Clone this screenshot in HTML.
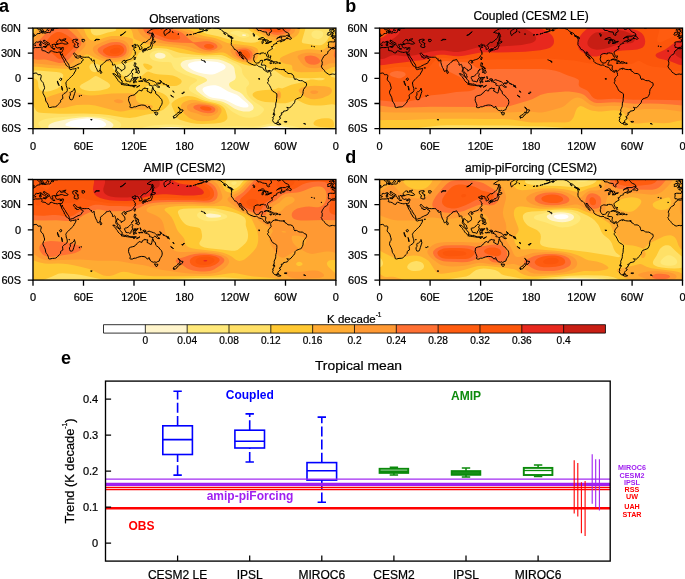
<!DOCTYPE html>
<html lang="en"><head><meta charset="utf-8"><title>Figure</title>
<style>html,body{margin:0;padding:0;background:#fff}svg{display:block}text{font-family:'Liberation Sans', Arial, Helvetica, sans-serif;fill:#000;stroke:#000;stroke-width:0.22px}</style></head><body>
<svg width="685" height="579" viewBox="0 0 685 579">
<defs>
<clipPath id="mc"><rect x="0" y="0" width="302.9" height="100.6"/></clipPath>
<path id="coast" d="M330.1 24.1L329 23.9L328.2 24.1L327.4 24.4L325.7 24.1L324 23.8L323.1 23.5L322.3 23L321 22.7L319.8 23.4L319.8 24.3L319.4 24.8L318.1 24.8L316.4 24.1L315.8 23.2L314.1 22.7L312.4 22.5L311.4 21.9L312 21.2L311.9 20.5L311.7 19.9L312.2 19.2L311.4 19L309.7 19.4L307.2 19.5L305.5 19.4L302.9 20.1L302.1 20.4L300.5 20.7L298 20.3L297.9 20.5L297.2 21.8L296.6 22.1L295.4 22.9L294.7 23.9L294.8 24.7L294.5 25.6L293.3 26.4L292 27.1L290.7 28.3L290.5 28.9L289.7 30.2L289.1 31.4L288.6 32.7L289.3 34L289.2 35.2L289.1 36.9L288.2 38L288.8 39L288.9 40L290.3 41.1L291.4 42.3L291.8 43.2L292.4 44L293.9 45L295.4 46.1L296.6 46.6L297.9 46.2L299.6 45.9L300.4 46L301.3 46.3L302.8 45.7L304 45.2L305.8 44.9L306.7 45L307.2 45.7L308 46.7L308.8 46.6L310.1 46.5L310.9 46.9L311.1 47.4L311.1 48.6L310.8 49.9L310.5 51.1L310.9 52.4L312.2 53.5L313 54.5L313.3 55.3L314.1 57.8L314.6 59.5L314.3 60.8L313.5 62L312.9 64.1L313 65.4L314.3 67.9L315.2 69.6L315.7 72.9L316.7 74.2L317.3 75L318.1 76.7L318.3 77.7L318.5 79.1L319.8 79.5L322.3 78.9L324.6 78.8L325.7 78.6L326.9 77.7L328.2 76.5L329 75.4L329.5 75L330.6 73.8L330.6 72.1L331.1 71.5L332.8 70.4L332.7 68.7L332.4 67.1L333.2 66.2L334.1 65.4L335.3 64.7L336.6 63.7L337.2 62.5L337.1 60.4L336.6 58.9L336.2 57.4L336 56L335.8 54.9L336.4 53.7L336.6 53.2L337.5 52.1L338.3 51.6L339.6 50.3L341.1 48.6L341.7 48.2L343.3 46.5L344.2 44.9L345.4 42.8L345.9 41.5L346 40.3L344.2 40.8L342.5 40.9L340.8 41.5L340 41.5L339.3 40.6L339.4 39.8L338.7 39.4L337.5 38.1L336.2 37.3L335.3 35.2L334.3 34.4L334.1 32.7L333 31L332.4 30.2L331.6 28.5L331.1 27.2L330.4 26L330.3 25.1M27.2 24.1L26.1 23.9L25.2 24.1L24.4 24.4L22.7 24.1L21 23.8L20.2 23.5L19.4 23L18.1 22.7L16.8 23.4L16.8 24.3L16.4 24.8L15.1 24.8L13.5 24.1L12.9 23.2L11.1 22.7L9.4 22.5L8.5 21.9L9.1 21.2L8.9 20.5L8.8 19.9L9.3 19.2L8.4 19L6.7 19.4L4.2 19.5L2.5 19.4L0 20.1L-0.8 20.4L-2.4 20.7L-5 20.3L-5 20.5L-5.7 21.8L-6.4 22.1L-7.6 22.9L-8.2 23.9L-8.2 24.7L-8.4 25.6L-9.7 26.4L-10.9 27.1L-12.2 28.3L-12.5 28.9L-13.3 30.2L-13.9 31.4L-14.3 32.7L-13.6 34L-13.7 35.2L-13.9 36.9L-14.7 38L-14.1 39L-14.1 40L-12.6 41.1L-11.5 42.3L-11.2 43.2L-10.5 44L-9.1 45L-7.6 46.1L-6.3 46.6L-5 46.2L-3.4 45.9L-2.5 46L-1.7 46.3L-0.2 45.7L1 45.2L2.9 44.9L3.8 45L4.2 45.7L5 46.7L5.9 46.6L7.2 46.5L8 46.9L8.2 47.4L8.2 48.6L7.8 49.9L7.6 51.1L8 52.4L9.3 53.5L10.1 54.5L10.4 55.3L11.1 57.8L11.6 59.5L11.4 60.8L10.5 62L9.9 64.1L10.1 65.4L11.4 67.9L12.2 69.6L12.8 72.9L13.7 74.2L14.3 75L15.1 76.7L15.4 77.7L15.6 79.1L16.8 79.5L19.4 78.9L21.6 78.8L22.7 78.6L24 77.7L25.2 76.5L26.1 75.4L26.5 75L27.6 73.8L27.6 72.1L28.2 71.5L29.9 70.4L29.7 68.7L29.5 67.1L30.3 66.2L31.1 65.4L32.4 64.7L33.7 63.7L34.3 62.5L34.2 60.4L33.7 58.9L33.2 57.4L33.1 56L32.8 54.9L33.4 53.7L33.7 53.2L34.5 52.1L35.3 51.6L36.6 50.3L38.1 48.6L38.7 48.2L40.4 46.5L41.2 44.9L42.5 42.8L42.9 41.5L43.1 40.3L41.2 40.8L39.6 40.9L37.9 41.5L37 41.5L36.4 40.6L36.4 39.8L35.8 39.4L34.5 38.1L33.2 37.3L32.4 35.2L31.4 34.4L31.1 32.7L30 31L29.5 30.2L28.6 28.5L28.2 27.2L27.4 26L27.3 25.1M41.5 60.4L42.3 63.3L41.6 65.4L40.8 67.9L40 70.4L39.6 71.3L38.3 71.7L37 71.3L36.6 70L36.4 68.3L37.3 67.1L37.4 65.4L37 64.6L37.9 63.7L39.1 63.5L40.2 62.5L41.1 61.2ZM4.2 0L4.5 0.8L5.5 1.6L6.7 1.6L8 0.9L8.9 0.3L9.4 1L9.9 1.8L10.5 2.9L10.8 3.8L12 3.8L13.3 3.2L13.9 2.3L14.1 1.3L15.4 0.6L15.6 0M18.8 0L19.4 0.2L20.2 0M328.2 0L327.4 0.3L325.7 0.4L323.8 0.4L322.7 0.7L322.8 1.3L323.6 1.4L323.3 2.3L322.5 2.5L322 1.9L321 2.2L320.6 3.1L320.7 3.9L319.8 4.4L318.9 4.7L318.5 4.4L316.8 4.5L315 5.1L313.9 4.7L312.2 5L311.4 4.6L311.2 3.9L312 3.1L311.8 2L310.5 2.4L309.9 2.9L309.9 3.8L310.3 4.6L310.1 5.3L308.8 5.4L307.2 5.6L306.6 6.5L305.9 7.2L304.4 7.6L304.1 8.3L303 8.8L301.9 8.9L301.4 8.6L301.7 9.5L300.4 9.4L299 9.7L299.3 10.2L300.8 10.6L301.9 11.7L301.9 12.9L301.5 13.9L299.6 13.8L297.1 13.7L295.2 14.2L295.5 15.5L295.5 16.8L295 17.8L295.5 18.2L295.4 19.3L296.6 19.2L297.6 19.5L298.3 20L299.2 19.5L301.1 19.4L301.5 18.9L302.5 18.6L303.1 17.8L302.7 17.2L303.5 16.1L304.8 15.6L305.6 14.9L305.6 14.2L306.5 13.8L308 14.2L309.3 13.6L310.4 13.1L311.5 13.5L311.9 14.3L313 15.2L314.5 15.8L315.1 16.2L316.1 16.8L316.5 17.6L316.2 18.4L316.6 18.5L317.3 17.6L316.9 17L317.3 16.3L318.4 16.9L318.4 16.5L317 15.8L316.4 15.2L315.3 14.9L314.4 13.8L313.4 13.2L313.3 12.3L314.4 12L314.4 12.7L315.2 12.4L315.7 13.2L316.8 13.9L318.5 14.8L319.4 15.3L319.3 16.4L320 17.3L320.8 18.2L321 19L321.5 19.6L322.1 19.7L322.4 18.9L323.1 18.7L322.6 17.9L322.1 17.2L322.1 16.3L322.9 16.7L323.4 16.1L324.8 16.1L325.1 16.7L325.5 16.3L326.5 15.9L327.4 15.8L327.6 16.2L326.1 16.4L325 16.9L325.4 17.4L325.6 18.1L325.9 18.9L326.1 19.3L326.8 19.5L327.5 19.9L328.6 19.9L328.8 19.4L329.9 19.7L331.1 20L332.1 19.4L332.9 19.6L333.3 19.5L333.2 20.5L333.2 21.4L332.8 21.9L332.4 22.6L332.2 23.5L331.8 24.1L330.7 24.2L330.1 24.1M25.2 0L24.4 0.3L22.7 0.4L20.9 0.4L19.8 0.7L19.9 1.3L20.6 1.4L20.4 2.3L19.5 2.5L19 1.9L18.1 2.2L17.7 3.1L17.8 3.9L16.8 4.4L16 4.7L15.6 4.4L13.9 4.5L12 5.1L10.9 4.7L9.3 5L8.4 4.6L8.2 3.9L9 3.1L8.8 2L7.6 2.4L6.9 2.9L6.9 3.8L7.3 4.6L7.2 5.3L5.9 5.4L4.2 5.6L3.6 6.5L2.9 7.2L1.4 7.6L1.2 8.3L0.1 8.8L-1 8.9L-1.5 8.6L-1.3 9.5L-2.5 9.4L-4 9.7L-3.6 10.2L-2.1 10.6L-1 11.7L-1 12.9L-1.4 13.9L-3.4 13.8L-5.9 13.7L-7.7 14.2L-7.4 15.5L-7.5 16.8L-7.9 17.8L-7.4 18.2L-7.6 19.3L-6.3 19.2L-5.3 19.5L-4.6 20L-3.7 19.5L-1.9 19.4L-1.4 18.9L-0.4 18.6L0.2 17.8L-0.3 17.2L0.6 16.1L1.9 15.6L2.7 14.9L2.6 14.2L3.5 13.8L5 14.2L6.3 13.6L7.5 13.1L8.6 13.5L8.9 14.3L10.1 15.2L11.5 15.8L12.1 16.2L13.1 16.8L13.5 17.6L13.2 18.4L13.6 18.5L14.4 17.6L14 17L14.3 16.3L15.5 16.9L15.5 16.5L14.1 15.8L13.5 15.2L12.4 14.9L11.4 13.8L10.4 13.2L10.4 12.3L11.4 12L11.4 12.7L12.2 12.4L12.8 13.2L13.9 13.9L15.6 14.8L16.4 15.3L16.3 16.4L17.1 17.3L17.8 18.2L18 19L18.5 19.6L19.2 19.7L19.4 18.9L20.2 18.7L19.6 17.9L19.2 17.2L19.1 16.3L19.9 16.7L20.4 16.1L21.9 16.1L22.1 16.7L22.6 16.3L23.6 15.9L24.4 15.8L24.7 16.2L23.1 16.4L22 16.9L22.5 17.4L22.6 18.1L23 18.9L23.1 19.3L23.8 19.5L24.6 19.9L25.7 19.9L25.8 19.4L26.9 19.7L28.2 20L29.1 19.4L30 19.6L30.4 19.5L30.2 20.5L30.2 21.4L29.9 21.9L29.5 22.6L29.3 23.5L28.9 24.1L27.8 24.2L27.2 24.1M24.4 15.8L23.6 15.1L23.3 14.5L23.7 13.9L24.2 13.2L25 12.4L25.7 11.7L26.5 11.2L27.3 11.7L28.3 11.8L27.4 12.3L28.2 12.9L29 12.7L29.9 12.5L30.7 12.3L29.6 11.5L30.7 11.1L32.1 10.8L33.1 10.7L32.1 11.6L31.6 12.2L31.1 12.4L31.8 12.8L32.8 13.4L33.4 13.9L34.5 14.4L35 15.1L34.9 15.5L33.7 15.9L32.4 16L31.1 15.8L30.3 15.5L29.5 15.1L28.2 15.1L26.9 15.3L26.1 15.8L24.8 15.8ZM40.4 11.7L41.7 11.3L42.9 11.1L44.6 11.3L44.6 12.3L43.2 12.4L42.9 13L42.3 13.2L42.9 14.1L44.2 14.4L44.4 15.3L45.4 15.3L45.4 15.9L44.4 16.1L45 16.8L44.6 17.4L45.3 17.8L45.3 19L44.6 19.4L43.3 19.5L42.1 19L41.2 18.8L41.2 18.1L41.2 17.4L41.6 16.6L42.3 16.5L41.7 15.9L40.8 15.1L40 14.3L40 13.4L39.6 12.9L39.3 12.4L40 12ZM49.2 11.3L51.3 11.3L51.8 12.6L50.5 13.7L49.2 13.4L49.1 12.2ZM61.9 12.2L63.1 11.2L64.8 11.2L66.5 11.4L64.8 11.6L63.1 11.6L62.3 12.6ZM87.5 7.1L89.2 6.3L91.3 5L92.6 3.6L91.7 4L90.5 5.6L88.8 6.9ZM27.3 25.1L28.2 26.7L28.8 27.1L29 26.4L29.5 25.6L29.3 26.7L29.9 27.2L30.3 28.1L31.3 29.8L32.4 31L32.8 32.3L33.7 33.5L34.5 34.8L35.5 36L36 37.3L36.4 39L36.6 39.7L37.9 39.6L39.6 39L41 38.6L42.1 37.7L43.8 36.9L45 36.2L46.3 35.8L47.5 35.2L48.6 34.4L48.6 33.3L49.5 32.9L50.3 31.6L49.5 30.6L48 30.2L47.4 29.3L47.5 28.3L47.1 28.7L46.5 29.1L45.4 30L44.2 30L43.4 29.9L43.3 28.9L43.2 28.4L42.7 28.9L42.5 29.3L42.2 28.8L42.1 27.9L41.4 27.2L40.8 26.4L40.4 25.6L40.8 25.1L41.7 25L42.5 25.7L43.3 26.9L44.6 27.8L45.9 28L47.1 27.6L48 28L48.4 28.8L49.7 29L51.8 29.2L53.4 29.1L54.7 29.1L56 29L56.4 29.5L56.8 30.3L57.6 30.8L58.9 31.1L58.1 31.6L58.5 32.3L59.3 32.9L60.6 32.5L60.9 31.7L61.2 32.3L61.3 33.1L61.3 34.4L61.7 36L62.1 37.3L62.9 39.4L63.8 40.8L64.2 42.1L64.8 43.3L65.3 43.5L65.8 42.8L66.5 42.5L67.2 41.7L67.2 40.7L67.6 39.3L67.5 37.7L68.2 36.9L69.3 36.3L70.3 35.4L71.5 34.1L72.8 33.4L73.2 32.3L74.3 32.1L75.3 32L76.2 31.6L77 31.4L77.3 31.6L77.7 32.7L78.3 33.5L79.1 34.5L79.5 35.6L79.4 36.9L80.2 37.1L81 36.5L81.6 36.2L82.2 36.9L82.3 37.7L82.6 39L83.1 40.2L83 41.5L82.7 42.8L82.7 43.7L83.3 44.3L84.2 44.9L84.5 45.7L84.7 46.9L85.2 47.8L86 48.5L87.1 49.2L87.7 49.1L87.5 48.2L87 47.4L87 46.3L86.3 45.3L85.8 45L85 44.5L84.6 44.2L84.2 43.2L83.5 42.5L83.6 41.5L84 40.4L84.2 39.1L84.6 39L85 39.7L86 40.1L86.7 40.9L87.1 41.4L87.9 41.6L88.4 41.9L88.2 43.1L88.8 42.8L89.8 41.6L90.3 41.5L91.6 40.8L92 39.8L91.9 38.7L91.6 37.3L91.1 36.7L90 35.9L89.5 35.2L88.9 34.4L89.2 33.5L89.9 32.9L90.9 32.3L92.1 32.3L92.3 33.1L92.6 33.3L93 32.5L94.1 32.2L95.5 31.7L96.2 31.5L97.2 31.2L98.5 30.6L99.5 29.8L100.4 28.9L100.8 27.8L101.4 27.2L102.2 26.4L102.5 25.3L102.2 24.9L101.7 24.8L102.6 24.4L102.5 23.7L101.7 23.1L101.2 21.8L100.4 21L101.2 20.1L101.8 19.6L103.1 19.3L103.1 18.9L102.1 18.8L101 18.9L100.1 19L100 18.3L99 18L99.1 17.4L100.1 17.4L101 16.8L101.8 16.1L102.7 16.3L102.1 17.4L102 17.8L103.5 17L104.6 16.9L105.2 17.2L105.4 18L105 18.4L105.9 18.7L106.5 19.1L106.5 20.1L106.4 21.2L107.1 21.4L108.1 21L108.8 20.7L109 19.7L108.8 19.1L108.1 18.2L107.3 17.2L107.7 16.8L109 16.1L109.2 15.3L110 14.8L111.1 14.1L112.3 14.4L114 13.2L115.3 12.2L116.6 10.9L118 9.6L118.2 8.4L118.9 6.7L118.9 5.7L117.8 5.4L117.4 4.9L115.7 5L115.3 4.4L114 4.4L115.3 3.4L117 2.3L118.2 1.5L119.9 0.7L122 0.5L124.5 0.5L126.9 0.4L128.3 0.8L130 0.4L130.9 0M136.2 0L134.5 0.8L133 1.7L132 2.1L131.3 2.9L130.9 4.6L131.4 6.3L131.9 7.5L133.2 6.5L133.6 5.9L134.6 4.9L136.3 4.4L136.1 3.8L137.4 3.2L137.2 2.1L136.6 1.8L137.6 0.8L138.4 0.1L139.7 0M119.5 4.8L120.3 5.9L120.6 7.1L121.2 8.4L120.3 9.2L120.2 10.5L120.8 11.2L119.5 11.7L119.5 10.5L119.7 9.2L119.5 7.5L119.3 6.3ZM119.4 12.2L120.8 13.2L122.3 13.2L122.4 14L120.6 15.1L118.8 14.7L118.1 15.5L117.8 14.4L118.9 14L119.2 13ZM118.7 15.6L119.1 16.3L119.5 17.2L119.1 18.2L118.7 19.3L118.4 20.1L118.5 20.4L117.8 20.8L117.6 21L117 20.9L116.6 21.2L115.5 21.3L115.1 21.5L114.4 22.2L113.8 21.5L113.6 21.3L112.3 21.5L111.1 21.8L110.2 21.8L110.2 21.5L111.5 20.6L112.8 20.5L114 20.5L114.4 19.9L115.1 19L115.5 18.9L115.5 19.4L116.6 18.9L117.4 18L117.8 16.9L117.8 16.3L118.2 15.8ZM110.2 21.9L110.9 22.5L110.8 23.5L110.2 24.1L109.8 24.1L109.6 23.5L109.2 22.9L109.2 22.3L109.8 22ZM111.5 22L112.9 21.5L113.4 22L112.9 22.4L112.1 22.6L111.6 22.8L111.3 22.3ZM102.2 29.2L102.7 29.5L102.2 30.6L101.7 31.9L101.2 31.2L101.2 30.3L101.8 29.3ZM93 33.5L93.4 34L92.9 34.8L92.1 35L91.5 34.5L91.6 33.9L92.4 33.5ZM67.3 42.1L68.3 43.2L68.8 44.3L68.5 45L67.6 45.3L67.2 44.4L67.2 43.3ZM101.7 34.8L102.8 34.9L102.9 36L102.4 37.1L102.3 38.1L103.1 38.6L104.2 38.7L104.3 39.7L103.5 39.2L102.5 38.7L101.7 38.7L101.4 38L101 37.3L101.2 36.6L101.4 35.6ZM105.6 42.1L106.3 43.2L106.5 44.4L106 45L105.6 45.4L105.4 44.9L104.3 44.9L104.2 44L102.8 44.4L102.7 43.8L103.5 43.2L104.3 43.2L105.2 42.8ZM98.6 43.2L99.7 42.3L100.6 41.2L100.4 40.8L99.6 41.9L98.6 43.2ZM105.2 39.8L105.8 40.9L105.2 41.1L104.8 40.2ZM102.7 40.4L103.6 40.7L103.8 41.9L103.3 42.6L102.9 41.9L102.7 41.5ZM80.2 45.6L82 45.9L82.9 46.9L84.2 48L85 48.6L86.7 49.9L87.4 51.1L87.9 52L89.2 52.8L89 55.2L87.9 55.1L86.3 53.8L85 52.4L84.4 51.1L83.3 49.9L82.9 48.8L81.8 47.8L80.8 46.9ZM88.5 56L89.6 55.3L91.3 55.8L93 56L93.4 55.7L94.8 56.2L96.3 56.8L96.4 57.5L94.7 57.3L92.6 57L90.9 56.8L89.5 56.5ZM91.7 49L92.2 48.6L93.7 48.4L95.1 47.6L96.4 46.4L97.6 45.1L98.5 44.4L99 45L100.1 45.9L99.5 46.5L99.1 47.4L99.3 48.6L100.1 49.5L99.1 49.9L98.9 51L98 51.6L97.9 53.1L97.6 53.7L96.4 53.7L95.5 53.1L94.3 53.2L92.7 52.7L92.6 51.6L91.9 50.7L91.7 49.9ZM101 49.5L101.8 49.3L103.5 49.5L105.2 49L104.8 49.9L103.5 50L101.8 49.9L101.1 50.3L101.2 51.1L102.2 51.1L103.7 51L102.7 51.8L102.2 52L102.9 53.1L103.5 54.1L102.9 54.3L102.2 53.7L101.8 52.6L101.2 52.7L101.3 54.1L101.2 55L100.6 54.9L100.6 53.2L100 52.6L100.8 50.5ZM96.8 57.2L98 57.3L98.9 57.2L100.1 57.3L101 57.3L103.3 57.3L103.3 57.7L101 57.8L99.3 57.8L97.6 57.8L96.8 57.6ZM103.9 58.9L105.2 58.1L106.9 57.3L105.6 58.3L104.3 58.9ZM100.1 58.2L101.7 58.7L101 58.9ZM107.4 48.6L107.7 49.5L108.2 50L107.7 50.9L107.5 50ZM107.7 52.8L109 52.6L110.1 53.2L109 53.2L107.7 53.2ZM106 53L107 53.1L106.7 53.5ZM110.2 51L111.5 50.6L112.8 51L112.9 52.4L113.6 53.1L114.9 52.1L116.1 51.6L117.8 52.3L118.7 52.5L120.3 53.2L121.6 53.5L122.7 54.5L123.7 55.3L124.4 55.9L123.7 56.2L124.5 57.2L125.8 58.3L126.9 58.9L126.2 59.2L124.5 58.9L123.7 58.3L122.9 57.2L121.6 56.8L120.8 57.4L120.3 58L119.1 58L117.8 57.3L116.6 57.3L116.1 56.4L116.8 56L116.1 54.9L114.4 54.2L112.8 53.6L111.9 53.7L111.8 53.2L111.3 52.6L112.6 52.1L111.1 52L110.2 51.5ZM125 54.9L126.6 54.9L127.9 53.9L128.2 54.5L127.1 55.5L125.8 55.6ZM126.9 52.5L128.3 53.2L128.8 54.2L128.2 53.3ZM130.2 54.9L131.1 55.8L130.7 55.9ZM131.7 55.9L132.5 56.5L132.1 56.4ZM133.4 56.7L134.5 57.3L134.1 57.2ZM134.4 58.1L135.3 58.6L134.6 58.5ZM135.3 57.3L135.9 58.3L135.7 58.3ZM135.9 58.9L136.6 59.4L136.2 59.3ZM138 67.2L139.3 68.2L140.5 69L139.7 68.7L138.4 67.9ZM140.2 62.9L140.7 63.4L140.4 63.5ZM140.8 63.8L141.2 64.2L140.9 64.1ZM149.2 65L150.3 65.1L150 65.6L149.3 65.5ZM150.5 64.1L151.5 63.9L151.1 64.4ZM171.8 33.4L172.6 33.9L172 34.4L171.7 34ZM171.1 32.8L171.6 32.9L171.3 33ZM170 32.2L170.2 32.4L169.9 32.4ZM168.6 31.8L168.8 31.9L168.6 31.9ZM119.9 59.3L120.8 62L122.3 62.9L122.9 65.8L123.7 66.5L125.4 67.5L126.9 69.6L128.6 71.3L129.2 73.4L129.2 74.6L128.8 76.3L127.9 77.8L127.2 78.8L126.5 80.5L126.2 81.6L124.5 82.1L123.1 83L121.9 82.3L120.8 82.8L118.7 82.2L117.6 81.3L117.4 80.3L116.3 80.1L116.6 79.4L116 78L115.7 78.8L114.4 79.5L114 79.4L112.9 77.8L111.1 77.1L108.6 76.9L106 77.4L104.3 78L102.7 78.7L101 78.7L99.3 79.6L97.6 79.5L96.8 79.1L97.4 77.1L96.8 75.4L96.1 73.8L95.5 72.1L95.7 70.4L95.9 68.7L97.6 67.7L99.3 67.3L101 66.9L102.2 66.2L102.9 65L103.9 64.7L104.3 63.9L105.6 62.5L106.9 62L107.9 62.7L109 62.8L109.4 61.2L110.1 60.7L111.5 60.4L111.5 59.8L113.2 60.4L114.9 60.4L114.4 61.6L114 62.9L115.3 63.5L117 64.6L118.2 65L118.8 63.3L119.2 61.2L119.5 59.5ZM121.8 84.4L123.3 84.8L124.8 84.6L124.7 85.7L124.1 86.8L122.9 86.9L122.3 85.9ZM145.3 79.1L146.7 80.1L147.3 81.2L148.1 81.8L149.8 81.8L150.1 82.6L149.1 83.3L149 83.8L148.1 84.9L147.4 85.1L147.1 84.9L147.4 84L146.4 83.4L147 82.6L146.9 81.3L145.6 79.6ZM145.3 84.3L146.6 84.8L146.4 85.5L145.4 86.8L144.2 87.4L143.7 88.7L142.6 89.4L141.6 89.3L140.1 88.9L140.5 88L141.8 87.2L143.5 86.3L144.3 85.3L144.9 84.5ZM141 89.5L141.5 89.7L141.2 90ZM166.6 0L166.6 1.2L169.1 1L170.4 1.1L170.4 2.1L169.6 2.7L168.3 3.4L166.2 4L164.3 4.5L165.8 4.4L167.5 4L169.1 3.5L170.8 2.7L172.5 1.9L173.4 1.4L173.8 0.6L174.6 0M175.2 0L175.2 0.7L176.7 0.5L178 0M180.1 -0.3L181.8 0L183.5 0L185.1 0.3L186.8 1L188.1 1.5L188.9 2.5L190.2 3.4L191.4 4.2L192.7 4.6L193.6 5L194.4 5.9L195.2 6.7L195.7 7.5L197.8 8.4L199.3 9L199.9 9.6L199.9 10.6L199 9.9L198 9.7L198.6 11.5L198.6 13L198.3 14.4L198.4 15.9L198.3 16.5L198.9 17.6L199.9 18.6L200.3 19.4L200.5 19.9L201.4 20.8L201.5 21.4L202.8 21.7L203.4 22L204.3 22.9L204.9 23.9L205.5 24.9L205.8 25.6L206.8 26.8L206.2 27L207.4 27.9L208.5 28.9L208.7 29.8L210.1 30.8L210.5 31.1L210.8 30.7L210.1 29.9L209.5 28.9L208.9 27.8L208 26.8L207.4 26L206.6 24.9L206.3 23.9L207.9 24.1L208.4 25.6L209.5 26.8L210.8 28.1L211.6 29.1L212.9 30.2L213.7 31.2L214.2 32.3L214.2 33.3L215.2 34.4L216.7 35.2L218 35.9L219 36.2L220.9 37L222.2 37.1L223.4 36.7L224.7 37.5L225.5 38.3L226.8 38.7L228.5 39.2L229.3 39.4L229.7 40L230.6 40.9L230.8 41.9L231.4 42.1L232.3 42.5L232.7 43.2L233.3 43.4L234.4 44L235.2 44.2L235.6 43.3L236 42.8L237.1 43.4L237.3 44.2L237.7 44.9L237.9 46.5L238.2 47.1L236.9 48.4L236.5 49.2L235.6 49.9L235.2 51.1L234.9 52.1L235.6 52.4L235.5 53.2L234.6 54.1L234.8 55.3L235.8 56.3L236.6 57.4L237.5 59.1L238.1 60.4L238.8 61.9L239.8 63.2L241.5 64.1L242.9 65L243.8 65.7L243.9 67.9L243.6 70.4L243.5 72.9L242.8 75L242.7 77.1L242.6 78.4L241.7 80.5L241.1 81.7L241.3 83.4L240.8 85.1L241.5 85.5L241.7 86.8L240.8 88L240.3 89.3L239.4 89.5L240.3 90.5L239.6 92.2L240.3 93.9L241.9 95.2L243.2 95.4L243.6 94.6L244.9 94.1L245.4 94.1L244.9 93.1L245.3 92.2L246.1 91.4L247.4 90.5L247.6 89.7L246.1 88.9L247 88L248 87.6L248.3 86.3L249.1 86.1L248.3 85.5L248.3 84.7L249.9 84.7L250.6 83L252.5 82.8L254.5 82.2L255.2 80.9L254.7 80.1L253.8 79.2L255 79.5L255.7 79.6L256.8 79.6L257.9 78.8L259 77.3L260.5 75.9L261.7 74.2L262.1 72.1L263.4 70.8L265.1 70.2L266.6 69.6L267.6 69.5L268.4 68.6L269.3 67.1L270 65.4L270.1 63.3L270.6 61.2L271.6 59.9L272.8 58.4L273.6 57L273.5 55.7L273.2 54.7L271.8 54.3L270.6 53.4L269.3 52.6L267.6 52.6L265.9 52.4L264.7 51.6L263.4 50.9L262.1 50.9L262.1 51.6L260.9 49.9L260.9 48.8L260 46.9L259.2 46.1L257.5 45.4L256.2 45.4L255 45.3L254.1 44.6L253.3 43.6L252 43.2L251.6 42.3L250.8 41.3L249.1 41.5L247.4 41.4L245.7 41.2L245.5 40.9L244 40.7L244 40.1L242.9 41.1L242.7 41.3L242.9 40.1L242.6 39.9L241.5 40.7L240 41.1L239.4 41.6L239 42.5L238.3 43.2L237.9 43L237.3 42.4L236 42.3L234.8 42.9L233.9 42.6L233.1 41.9L232.6 41.2L232.5 39.8L232.8 38.6L232.9 37.7L231.8 37.1L230.6 37L228.9 37.1L228.2 36.9L228.6 35.6L228.9 34.8L229.3 34L229.7 33.1L229.9 32.4L228.9 32.2L227.2 32.5L226.8 33.5L226.7 33.7L226 34.7L224.7 34.9L223.4 35L222.3 34.5L222 34.1L221.2 32.9L220.7 31.6L220.7 30.2L221.2 28.7L221.1 27.2L221.7 26.4L223 25.8L224 25.4L225.5 25.5L226.8 25.8L227.8 25.9L227.6 25L228.9 24.9L230.6 24.8L231.3 25.4L232.3 25.1L233.1 25.8L233.4 26.8L233.8 27.9L234.4 28.7L234.8 29.2L235.4 29.1L235.5 28.7L235.6 27.7L235.1 26.4L234.5 25.1L234.6 23.9L235.2 23.2L236.2 22.5L237.3 21.9L238.2 21.2L238.7 21L239.4 20.7L239.2 19.7L238.8 19.3L238.7 18L239 18.9L239.6 18.4L239.8 17.8L240.5 17.2L240.7 16.3L241.9 15.9L243 15.5L244 15.3L243.5 14.8L243.5 14.3L244.2 13.6L245.3 13.2L246.6 12.7L247.4 12.4L248.4 12.1L247.4 13.2L247.2 13.7L248 13.8L249.5 12.9L251.6 12.3L252.5 11.3L252.2 10.9L251.2 11.7L249.9 11.9L248.7 11.5L248.3 10.5L248.7 10.1L248.8 9.4L247.4 9.1L245.3 9.6L243.6 10.7L244.5 9.9L246.1 8.9L247.2 8.2L249.5 8.1L252.5 8.1L253.7 7.3L255.2 7.1L256 6.3L255.8 5.4L254.6 4.6L252.9 3.9L251.6 3.1L250.9 2.1L250.4 1.3L249.1 0.3L248.7 0M248.3 0L247.4 0.8L245.7 1.4L244.5 1L244 0M237.7 0L237.9 1.3L238.6 2.5L238.2 3.8L236.5 4.6L236 5.9L236.6 6.9L235.9 7.4L235.2 7.1L233.9 6.3L233.8 5L233.5 4L231.4 3.8L229.3 3.4L228.1 2.6L226.4 2.3L225.1 2.5L224.7 1.3L223.7 1L223.3 0M256.2 7L255.8 8L254.6 8.8L253.3 10.1L253.1 10.4L255.8 10.5L256.7 11.1L257.9 11.1L258.5 10.5L257.9 9.6L257.7 9L256.2 8.4ZM195 7.7L197.3 8.2L199 9.6L198.2 9.6L196.9 9ZM191 4.9L192 5.4L192.5 6.5L191.4 5.9ZM172.9 2.1L174.8 1.8L174.4 2.5L173.1 2.7ZM163.3 5L162 5.5L162.8 5.4ZM161.2 5.6L160.3 6L160.9 5.9ZM158.2 6.5L156.5 6.6L157.4 6.4ZM154.8 6.8L153.6 7L154.4 6.7ZM145.2 6L146 6L145.6 5.9ZM139.5 3.9L140.2 4.4L139.9 4ZM264.8 0L265.9 0.2L266.8 0M225.5 11.1L227.6 10.1L228.9 9.4L230.6 9.6L231.6 10.5L231.8 11.3L229.7 11.3L228.5 10.9L226.8 11.1ZM229.1 15.1L229.1 13.4L230.2 11.9L231.4 11.9L230.3 13.4L230.3 14.7L229.7 15.3ZM231.8 11.8L233.9 11.7L235.6 12.6L234.4 13.2L234.1 14.1L233.5 14.3L232.7 13.6L232.9 12.4ZM232.9 15.3L234.8 15.3L236.5 14.5L235.6 14.5L233.5 14.9ZM235.9 14L238.2 14L238.8 13.2L237.3 13.4ZM221.3 8L221.7 6.7L220.5 5.3L219.8 5.7L220.6 6.7L220.9 7.8ZM231.4 31.9L233.1 31L234.8 30.9L236.5 31.4L238.2 32.3L239.4 32.9L240.5 33.4L239.8 33.6L237.7 33.6L237.3 32.9L236 32.2L234.4 31.7L233.5 31.4L232.4 31.7ZM240.3 34.9L241.4 33.6L242.6 33.7L244 33.8L245.4 34.7L244.5 34.9L243.2 35L242.6 35.5L241.9 35ZM237.1 34.9L238.2 34.8L238.7 35.2L237.7 35.4ZM246.4 34.8L247.7 34.9L247.5 35.2L246.4 35.2ZM250.9 41.3L251.6 41.3L251.5 41.8L250.9 41.8ZM237.3 27.9L238.2 28.1L237.7 28.3ZM237.3 29.3L237.6 30.2L237.1 29.8ZM251.6 93.5L252.9 93.3L254.1 93.6L253.3 94.1L252 94ZM245.2 94.5L243.6 95.2L243.2 95.7L244.9 96.6L247 96.6L248.1 96.2L246.1 95.4L245.5 94.7ZM240.7 85.4L241.1 86.7L240.4 86.5ZM226 50.6L226.4 51.1L226.1 51.1ZM226.8 50.7L227 50.9L226.8 51ZM271 95.6L272.7 96.1L272.2 95.7ZM58.1 91.4L59.2 91.5L58.7 91.9L58.1 91.8ZM298.2 8.3L300 8.1L301.4 7.8L303.2 7.7L304.1 7.4L303.6 7.1L304.4 6.2L303.2 5.9L302.9 5.4L302.8 4.9L301.9 4.2L301.3 3.5L300.3 3.4L301.3 2.6L301.3 2L300 1.9L299.6 2L300.4 1.2L298.7 1.2L298.1 2.1L298.2 2.9L297.9 3.5L298.7 3.8L298.9 4.4L300 4.3L300.4 5L300.4 5.5L299.2 5.6L299.4 6L299.5 6.5L298.6 6.8L299.4 7L300.4 7.2L299.3 7.5ZM-4.8 8.3L-2.9 8.1L-1.5 7.8L0.3 7.7L1.2 7.4L0.7 7.1L1.4 6.2L0.3 5.9L0 5.4L-0.2 4.9L-1.1 4.2L-1.7 3.5L-2.7 3.4L-1.7 2.6L-1.7 2L-2.9 1.9L-3.4 2L-2.5 1.2L-4.2 1.2L-4.9 2.1L-4.7 2.9L-5 3.5L-4.2 3.8L-4 4.4L-2.9 4.3L-2.5 5L-2.5 5.5L-3.8 5.6L-3.5 6L-3.5 6.5L-4.4 6.8L-3.5 7L-2.5 7.2L-3.6 7.5ZM297.7 5.6L297.6 6.5L296.2 6.9L294.7 7.1L294.3 6.5L295 5.7L294.5 4.9L296 4.5L296 4L297.6 4L298.3 4.6ZM296.6 1.8L297.6 1.3L297.2 1.8ZM301.7 0L301.9 0.1L301.9 0M300.2 0.8L300.6 0.8L300.4 1ZM10.5 18.4L13.1 18.3L12.8 19.5L10.5 18.7ZM6.9 15.9L8.1 15.9L8.2 17.4L7.2 17.6ZM7.9 14.3L8 15.5L7.3 15.3L7.2 14.6ZM19.9 20.5L22.1 20.8L20.6 21ZM27.2 21L29.1 20.5L28.3 21.1ZM2 17.2L2.9 16.9L2.5 17.4ZM9.3 3.6L10.5 3.4L10.5 4L9.4 4ZM8.4 3.8L9.1 3.9L8.7 4.1ZM15.3 2.5L16 1.8L15.8 2.3ZM18.5 1.3L19.4 1.3L18.9 1.7ZM26.8 50.7L27.8 50L28.8 50.6L28.4 52L27.6 52.5L26.8 51.6ZM24.6 53.2L25 54.5L25.8 56.2L26.1 57.6L25.6 57L24.8 55.3L24.5 54.1ZM28.6 58.3L29.1 59.5L29.5 61.2L29.5 62.3L29.1 61.9L28.8 59.9ZM44.9 39.7L45.9 39.8L45.3 40ZM46.5 67.8L47 68L46.7 68.2ZM48.3 67.2L48.6 67.3L48.4 67.5ZM36.4 60L36.7 60.3L36.4 60.4ZM278.7 17.9L279.2 17.9L279 18.1ZM281.2 18.5L281.7 18.6L281.5 18.7ZM288.5 22.8L288.9 22.9L288.6 23Z" fill="none" stroke="#000" stroke-width="1" stroke-linejoin="round" stroke-linecap="round"/>
</defs>
<rect width="685" height="579" fill="#fff"/>
<g transform="translate(33 28.1)">
<g clip-path="url(#mc)">
<rect x="0" y="0" width="302.9" height="100.6" fill="#FFFFFF"/>
<path d="M0.8 0l302.1 0l0 100.6l-49.4 0l-6.1 -1l-5.9 -0.4l-5.1 0.3l-5.7 1.1l-89 0l-3.7 -0.2l-4.6 0.2l-133.4 0l0 -100.6ZM162 33.5l-3.8 0.8l-1.9 0.9l-0.9 0.8l-0.4 0.9l0.1 0.8l0.3 0.8l0.7 0.9l1.9 1.6l2.9 1.7l4.6 1.7l5.4 1.2l5.9 0.8l2.5 -0.1l2.5 -0.5l3.4 -1.3l5 -2.6l1.7 -1.3l0.7 -1.2l0 -0.9l-0.4 -0.8l-0.8 -0.8l-1.2 -0.9l-2.5 -1.1l-3.4 -0.9l-5 -0.7l-5.9 -0.3l-5.9 0ZM175 57.8l-2.6 0.8l-1.7 0.9l-0.9 0.8l-0.3 0.9l0 0.8l0.9 1.7l1.4 1.6l1.9 1.7l2.2 1.4l3.4 1.2l9.2 1.3l3.4 0.8l3.3 1.5l7.6 4l5.1 1.7l2.5 0.5l2.5 0.1l1.7 -0.4l0.5 -0.3l0.3 -0.6l0.1 -1.1l-1.1 -1.7l-5.2 -4.2l-3 -2.8l-2.5 -1.7l-8.5 -3.4l-2.5 -1.3l-5 -3.1l-2.5 -1.1l-2.6 -0.6l-2.5 -0.1l-2.5 0.2ZM53.5 90.5l-8.6 0.8l-4.2 0.9l-2.9 0.8l-2 0.9l-2.7 1.6l-0.7 0.9l0 0.8l1.6 0.8l4.8 0.9l8.3 0.8l10.1 0.3l6.7 -0.1l4.2 -0.5l2.5 -0.5l0.9 -0.4l0.8 -0.5l0.7 -0.8l0.1 -0.8l-0.3 -0.9l-0.6 -0.8l-2.3 -1.7l-1.9 -0.8l-2.9 -0.9l-3.7 -0.5l-3.4 -0.3Z" fill="#FFF5CC" fill-rule="evenodd"/>
<path d="M0.8 0l302.1 0l0 100.6l-43 0l-4.1 -1.1l-5.1 -0.9l-5.9 -0.7l-3.3 -0.1l-4.2 0.2l-10.1 1.6l-4.2 0.4l-19.4 -0.1l-12.4 0.7l-36.4 0l-9.3 -1.4l-7.5 -0.4l-9.3 0.5l-9.5 1.3l-43.8 0l2.8 -0.8l0.9 -0.6l1.1 -1.1l0.2 -0.9l-0.1 -0.8l-0.5 -0.8l-1.9 -1.7l-1.4 -0.8l-4 -1.7l-5.2 -1.4l-5.9 -0.7l-6.7 -0.3l-7.6 0.4l-8.4 0.9l-5.9 1.1l-11 2.5l-3.3 1.2l-2.1 1.3l-0.7 0.8l-0.4 0.9l0 0.8l0.6 1.7l-15.9 0l0 -100.6ZM208.9 6.7l0.2 0.8l1.3 0.4l1.6 0l1 -0.4l0 -0.8l-1 -0.4l-1.6 -0.1ZM123.9 25.1l-1.4 0.8l-0.6 0.9l-0.1 0.8l0.3 0.9l0.7 0.8l1.7 0.8l2.6 0.5l2.5 -0.3l1.7 -0.7l0.5 -0.3l0.6 -0.8l0.2 -0.9l-0.3 -0.8l-0.8 -0.9l-1.6 -0.8l-2.8 -0.5l-1.7 0.1ZM162.4 31l-6.7 0.6l-2.5 0.4l-2.1 0.7l-1.6 0.8l-1 0.9l-0.6 0.8l-0.3 0.8l0 0.9l0.7 1.6l1.4 1.7l2.3 1.7l2 1.2l5.1 2.4l9.3 2.9l2.8 1l1.6 0.9l0.9 0.8l0.4 0.9l-0.3 0.8l-1 0.8l-7.8 4.1l-1.3 1l-0.7 0.8l-0.3 0.8l0.2 0.9l0.4 0.8l1.6 1.7l5.5 4.2l3.8 2.2l3.4 1.2l9.3 1.6l3.3 1l4.2 2l6.8 4.4l4.2 1.8l5 1.2l4.2 0.2l1.7 -0.2l1.7 -0.6l1.1 -0.6l1 -0.8l0.4 -0.8l0.2 -0.9l-0.1 -0.8l-0.7 -1.7l-1.5 -1.7l-5.4 -5l-3.4 -3.9l-1.7 -1.5l-1.7 -1l-5 -2.2l-2.7 -1.5l-1 -0.8l-1.2 -1.7l-0.3 -1.6l0.2 -0.9l0.8 -0.8l4.4 -2.5l0.7 -0.9l0.7 -1.7l-0.1 -1.6l-0.7 -3.4l-0.6 -4.2l-0.9 -1.7l-0.7 -0.8l-2.3 -1.7l-3.2 -1.6l-4.1 -1.7l-4.2 -1.2l-3.3 -0.4l-4.2 -0.2Z" fill="#FFE97A" fill-rule="evenodd"/>
<path d="M0.8 0l302.1 0l0 100.6l-34.3 0l-3.6 -1.5l-5 -1.2l-13.5 -2.1l-5.9 -0.6l-2.5 0.1l-2.5 0.4l-5.7 1.5l-3.6 0.7l-5.9 0.4l-17.6 -0.5l-13.5 0.5l-24.4 0.4l-6.7 -0.4l-14.3 -1.7l-5.1 -0.2l-5.9 0.1l-10.1 0.6l-6.7 0.7l-4.2 1l-1.7 0.7l-1.7 1.1l-23.7 0l1.4 -0.8l1 -0.9l0.7 -0.8l0.3 -0.9l0 -0.8l-0.3 -0.8l-0.6 -0.9l-0.9 -0.8l-2.9 -1.7l-6.1 -2l-7.6 -1.6l-8.4 -0.8l-8.4 -0.3l-9.3 0.3l-21 1.7l-5.9 0.7l-4.2 0.7l-2.5 0.8l-2.6 1.1l-1.4 1.1l-0.5 0.8l-0.2 0.9l0.1 0.8l0.4 0.8l1.5 1.7l2.1 1.7l-9.5 0l0 -100.6ZM281.5 2.5l-1.7 0.8l-0.8 0.9l-0.4 0.8l-0.2 1.7l0.2 0.8l1.1 1.7l1.2 0.8l1 0.5l2.6 0.5l1.1 -0.1l1.4 -0.4l0.9 -0.5l1 -0.8l0.6 -0.8l0.7 -1.7l0 -1.7l-0.7 -1.1l-0.6 -0.6l-1.1 -0.5l-1.7 -0.4l-2.5 -0.2ZM199.5 3.4l-1.9 0.8l-0.2 0.9l1.3 0.8l4.1 1.1l2.8 1.4l2.3 0.8l2.5 0.4l2.5 -0.1l2.6 -0.8l0.9 -1.1l-0.2 -0.8l-1.6 -1.3l-1.7 -0.7l-2.8 -0.6l-3.9 -1.2l-2.5 -0.3ZM122.3 22.6l-2.4 0.8l-1.4 0.9l-0.9 0.8l-0.9 1.7l-0.1 0.8l0.6 1.7l0.6 0.9l1.7 1.4l1.6 0.8l1.7 0.6l3.4 0.7l3.4 0.2l5.8 -0.1l1.7 0.3l0.9 0.4l0.6 0.7l1.3 3.3l1 1.7l2.1 1.9l2.6 1.5l5.8 2.7l4.2 1.7l6.5 2.3l1.4 0.8l0.6 0.8l-0.3 0.9l-0.9 0.8l-5 3.4l-0.8 0.8l-1 1.7l-0.2 0.8l0.1 0.9l0.3 0.8l1 1.2l2 1.3l4.8 2.3l5.9 3.3l2.5 1.2l4.2 1.3l9.2 1.9l3.4 1.2l1.7 0.9l1.9 1.3l4.8 4.5l2.5 1.8l5.9 3.2l4.2 1.6l2.6 0.5l3.3 0.1l3.4 -0.3l2.5 -0.6l2.6 -0.9l2.5 -1.5l2 -1.7l1.3 -1.6l0.3 -0.9l0.1 -0.8l-0.2 -0.9l-0.7 -0.8l-2.1 -1.7l-5.8 -3.7l-3.3 -2.6l-2.3 -2.1l-1.9 -2.5l-0.9 -2.5l-0.5 -4.2l0.1 -0.8l0.4 -0.7l1.8 -1.8l0.5 -0.9l0.2 -0.8l-0.4 -1.7l-1.1 -1.7l-3.5 -3.8l-1.4 -2l-0.6 -1.7l-0.4 -3.4l-0.8 -1.6l-1.7 -1.7l-2.7 -1.7l-11.8 -5.4l-2.5 -0.8l-2.5 -0.6l-4.2 -0.3l-27.8 -0.1l-4.2 0.2l-6.7 0.7l-1.7 0l-1.7 -0.6l-3.7 -4l-1.2 -0.8l-1.8 -0.9l-2.6 -0.8l-3.3 -0.5l-2.5 0Z" fill="#FFE066" fill-rule="evenodd"/>
<path d="M0.8 0l57.2 0l-0.3 0.8l0 1.7l0.5 1.7l0.7 1.1l0.8 0.9l1.7 0.9l2.5 0.4l3.4 -0.6l7.6 -2.4l5.4 -1.1l2.1 -0.7l0.4 -0.2l0.5 -0.8l-0.3 -0.9l-0.8 -0.8l81.9 0l1.6 0.9l3 2.5l1.3 0.8l1.7 0.8l2.5 0.9l10.9 2.2l7.6 2.2l4.2 1.1l15.1 2.7l5.9 0.5l4.2 -0.3l2.5 -0.6l0.9 -0.4l0.9 -0.7l0.5 -0.9l0 -0.8l-0.6 -1.7l-1.7 -1.7l-6.7 -4.2l-1.9 -1.6l-1.3 -1.7l57.9 0l-3.7 12.6l-0.1 0.8l0.2 0.9l1.2 0.8l1.6 0.4l10.1 1.4l3.3 0.3l1.7 -0.1l1.7 -0.3l1.7 -0.8l1.7 -1.3l1.8 -2.1l2.1 -3.4l3 -5.8l1.2 -3.4l2.8 0l0 42.7l-2.1 0.9l-1.2 0.8l-1.4 1.7l-0.4 0.8l-0.1 0.9l0.7 0.8l4.5 1.2l0 27.6l-1.7 -0.9l-2.5 -0.3l-7.6 1l-3.3 0.2l-5.1 0.1l-5 -0.4l-2.6 -0.5l-2.5 -0.7l-2.5 -1l-4.2 -2.3l-1.3 -0.5l-1.2 -0.2l-2.2 0.2l-5.4 2.4l-3.4 0.7l-6.7 -0.1l-3.4 -0.6l-10.1 -0.6l-4.2 -0.9l-3.9 -1.7l-2 -1.3l-1.5 -1.3l-0.6 -0.8l-0.4 -0.8l0 -0.9l0.3 -0.8l0.8 -0.8l1.5 -0.9l2.4 -0.7l5.1 -0.8l12.6 -1.1l2.5 -1.2l0.9 -0.2l3.4 0.6l2.5 -0.8l4.2 -1.9l2.5 -0.9l9.8 -2.2l9.6 -3l2.5 0l5 0.7l3.4 -0.1l1.1 -0.1l1.8 -0.9l0.2 -0.8l-0.6 -0.2l-1.7 -0.3l-2.5 -0.1l-9.2 0.5l-9.3 -0.3l-10.9 0l-3.4 -0.4l-1.7 -0.4l-2.5 -1.2l-5.1 -3.6l-2.5 -1.6l-2.5 -1.1l-5.1 -2l-1.6 -0.9l-1.3 -1l-2.1 -2.7l-0.8 -0.1l-3.4 1.7l-2.5 0.9l-3.4 0.3l-3.4 -0.2l-5 -1.2l-6.8 -2.4l-4.9 -2.1l-6.8 -3.5l-3.4 -1.2l-1.7 -0.3l-2.5 -0.1l-8.4 0.4l-5.1 0.1l-5.9 -0.3l-6.7 -0.7l-9.2 -1.1l-3.4 -0.6l-2.5 -0.8l-5.8 -2l-4.3 -1.1l-5.1 -0.6l-4.2 -0.1l-3.4 0.2l-3.3 0.6l-10.1 2.7l-1.2 0.8l-0.8 0.8l-2.8 5.1l-0.6 0.8l-2.1 1.7l-3.5 1.4l-10.2 1.9l-3.2 0.9l-2.1 0.8l-1.2 0.9l-0.5 0.8l0.1 0.8l1.7 1.7l7 4.7l5.9 3.4l2.5 1.1l2.6 0.7l2.5 0.2l2.5 -0.7l1.7 -1.1l5.9 -5.1l1.7 -1.2l1.6 -0.5l5.5 1.9l3.7 0.8l2.6 0.3l8.4 0.4l4.3 0.7l4.2 1.4l2.4 1.4l1.2 0.8l0.7 0.9l0.4 0.8l0.1 0.9l-0.3 0.8l-0.6 0.8l-1.4 1.2l-2.5 1.1l-2.6 0.3l-4.2 0.1l-14.3 -0.8l-5 0l-3.4 0.4l-0.6 0.2l-0.7 0.9l0.2 0.8l0.9 0.9l1.6 0.8l2.6 0.8l7.8 1.9l3.8 1.5l2.7 1.7l0.9 0.8l1.3 1.7l0.8 1.7l0.8 2.5l0.1 0.8l-0.3 0.9l-1.2 1.6l-2.5 2.5l-2 1.7l-1.9 1.2l-3.4 1.4l-4.2 1.2l-8.4 1.5l-10.1 2.5l-2.5 0.4l-3.4 0.3l-5.9 -0.4l-15.1 -2.5l-10.1 -0.9l-15.1 -0.7l-16 0.4l-8.5 -0.1l-15.1 -0.7l-3.1 -0.2l-2 -0.4l-1.2 -0.5l-1.3 -0.9l-0.8 -1.2l-1.4 -2.9l-1.1 -1.4l0 -27.6l1.6 0.5l1.6 0.8l1 0.9l0.5 0.8l0.4 1.7l0.3 4.2l0.6 1.7l0.7 1l1.7 1.2l1.7 0.6l1.6 0.2l2.6 -0.1l3.3 -0.5l4.2 -1.3l2.6 -1.1l2.5 -1.7l1.1 -1.7l0.2 -0.8l0 -3.4l0.1 -0.8l1.7 -3.4l0.2 -0.8l0 -0.9l-0.4 -0.8l-1.2 -1l-1.7 -0.7l-3.4 -0.6l-10.1 -0.7l-8.4 -0.8l-2.5 0l-2.5 0.4l0 -42.7ZM238.3 19.3l-0.8 0.8l0.7 0.7l0.8 0l2.9 -0.7l0.4 -0.8l-1.6 -0.3ZM57.8 36l-0.8 0.8l-0.4 0.9l-0.2 0.8l0.2 1.7l0.7 1.2l0.8 1l0.8 0.7l1.7 0.9l1.7 0.2l1.7 -0.7l3.6 -2.5l0.8 -0.8l0.4 -0.8l-0.2 -0.9l-0.8 -0.8l-1.4 -0.9l-2 -0.8l-2.1 -0.5l-1.7 -0.2l-1.7 0.2ZM61 48.6l-4.6 3.4l-6.3 3.3l-2.1 1.4l-1 1.1l-0.2 0.9l0.3 0.8l0.9 0.8l1.5 0.9l2.7 0.9l4.2 0.7l5 0.1l5.9 -0.6l5 -1.1l2.3 -0.9l1.5 -0.8l0.8 -0.8l0.3 -0.9l-0.2 -0.8l-0.4 -0.9l-1.7 -1.6l-1.7 -1.2l-5.9 -3.4l-3.3 -1.7l-1.7 -0.2ZM110.2 36l0.8 -0.6l0.9 -0.1l2.9 0.7l3.7 1.7l0.9 0.9l0 0.8l-0.8 0.9l-1.7 1.1l-1.7 0.5l-0.8 -0.2l-1.7 -1.3l-1.6 -1.8l-0.9 -1.7ZM149.8 68.7l2.5 -0.5l2.5 -0.2l2.6 0.1l2.5 0.4l3.4 0.9l5.9 2.5l2.5 0.8l10.9 2.5l4.2 1.4l1.7 1l1.6 1.2l1.4 1.7l1 1.7l0.9 2.5l0.9 3.3l0.1 1.7l-0.2 0.9l-0.5 0.8l-0.7 0.8l-1.2 0.9l-1.7 0.8l-2.4 0.7l-5.9 0.7l-12.6 0.5l-5.9 -0.1l-5.1 -0.7l-5.9 -1.5l-6 -2.1l-1.5 -1l-0.8 -0.7l-0.6 -0.8l-1.2 -3.4l-3 -6.7l-0.6 -1.7l-0.1 -1.6l1.3 -1.7l2.1 -1.7l3.7 -1.9ZM288.6 90.4l3.4 -0.3l3.3 0.1l1.7 0.3l2 0.8l0.8 0.9l0.5 0.8l0.6 1.7l0.2 2.5l-0.1 0.8l-0.4 0.9l-1.1 0.6l-1.6 0.1l-10.4 -0.7l-4.3 -0.9l-1.7 -0.8l-0.7 -0.8l-0.3 -0.9l0.1 -0.8l0.4 -0.8l0.9 -1.1l0.9 -0.6l1.7 -0.9Z" fill="#FFC832" fill-rule="evenodd"/>
<path d="M4.2 0.2l0.1 -0.2l46.2 0l2.3 5.9l1.9 3.2l1.5 1.8l1 0.8l0.9 0.5l1.6 0.4l1.7 0l2.5 -0.5l10.1 -3.3l4.3 -0.8l4.2 -0.2l4.2 0.2l5 0.6l4.2 0.8l2.3 0.7l1.1 0.5l0.4 0.3l0.3 0.8l0.2 5.1l-0.2 3.3l-0.5 2.5l-0.7 2.5l-0.7 1.7l-1.1 1.7l-1.8 1.7l-1.8 1l-1.7 0.7l-2.5 0.7l-3.4 0.7l-4.2 0.6l-4.2 0.2l-2.5 -0.1l-3.4 -0.6l-3.3 -1l-2.6 -1l-4.5 -2.1l-4.7 -2.4l-1.7 -0.6l-0.8 -0.1l-1.7 0.4l-1.7 1.4l-1.5 2.2l-2.5 5l-1.9 2.4l-2.5 1.8l-2.6 0.9l-3.3 0.4l-5.9 0l-14.3 -0.9l-11.8 -1.2l-4.2 0l0 -32.5l2.7 -3.6ZM96.8 0l49.8 0l8.3 1.5l2.5 0.7l2.5 0.9l5.3 2.8l3.1 1.3l2.6 0.7l8.4 1.5l3.3 0.8l3.4 1.2l5.9 2.5l2.5 0.9l4.2 0.8l16 1.7l4.2 0.8l2.5 0.7l2.4 1.3l0.8 0.9l0.5 0.8l0.5 2.5l-0.3 3.4l-0.5 1.6l-1 1.7l-1.5 1.7l-1 0.8l-1.5 0.8l-1.7 0.4l-3.4 0l-5 -0.9l-5.1 -1.6l-5.5 -2.9l-5.4 -3.6l-1.7 -0.8l-1.7 -0.5l-3.4 0l-10.1 1.2l-3.3 0l-4.2 -0.3l-6 -1l-13.1 -3.3l-7.9 -1.6l-10.1 -1.3l-13.4 -1l-3.4 -0.6l-2.5 -0.8l-2.5 -1l-7.6 -3.4l-1.7 -1l-0.6 -1.1l-0.6 -3.3l-0.7 -2.5l-0.6 -1.2l-0.9 -1.1l-1.5 -1.1ZM218.8 0l47.7 0l0.3 1.7l-0.6 2.5l-1.1 2l-1.7 1.8l-2.5 1.7l-3.4 1.5l-4.2 1.1l-4.2 0.5l-4.2 0l-5.1 -0.5l-3.3 -1.1l-2.6 -1.4l-5.7 -3.9l-6.9 -3.6l-2.9 -2.3ZM302.9 6.1l0 32.5l-2.5 0.3l-2 0.5l-7.3 3.4l-3.3 0.8l-4.3 0.3l-15.1 0.2l-3.4 -0.1l-2.5 -0.6l-1.5 -0.6l-1 -0.9l-0.5 -0.8l-0.2 -0.8l0 -1.7l-0.3 -0.8l-0.7 -0.9l-1.7 -0.6l-3.4 -0.5l-2.5 -0.7l-2.7 -1.5l-0.8 -0.9l-0.4 -0.8l0 -0.8l0.4 -0.9l0.9 -0.8l1.5 -0.9l7.9 -3.6l5.8 -1.9l6.8 -1.3l4.2 -0.5l4.2 0l8.4 0.8l2.5 -0.3l1.7 -0.6l1.7 -1.1l2.3 -2.4l5.3 -8ZM277.7 57.8l4.2 -0.2l4.2 0.2l5.9 0.4l2.9 0.5l2.2 0.8l1 0.8l0.5 0.9l0.3 0.8l-0.1 1.7l-0.9 1.7l-0.9 0.8l-1.6 1.1l-2.6 1.2l-3.3 1.3l-2.5 0.6l-3.4 0.6l-2.5 0.1l-3.4 -0.3l-2.5 -0.8l-1.7 -0.7l-3.8 -2.2l-2.1 -1.7l-1.5 -1.7l-0.4 -0.8l0 -0.9l0.4 -0.8l1.5 -1.1l1.3 -0.6l3 -0.8ZM244.9 62.8l0.8 -0.4l0.9 0.4l1.1 1.7l0.4 1.7l0 1.7l-0.4 1.7l-1.1 1.6l-0.9 0.3l-0.8 -0.3l-0.8 -0.8l-0.5 -0.8l-0.4 -1.7l0.3 -2.5l0.7 -1.7ZM31.1 63.7l4.2 -0.6l3.4 0.1l3.3 0.8l9.3 2.6l3.4 0.6l3.3 0.2l5.1 -0.2l10.9 -1.4l5.1 -0.4l16 -0.3l4.2 0.3l2.5 0.8l1 0.9l0.2 0.8l-0.1 2.6l0.2 0.8l0.9 1.7l1.2 1.2l1.6 0.9l1.7 0.5l6.8 0.8l2.5 0.5l0.8 0.3l0.9 0.7l0.3 0.9l-0.4 0.9l-1.4 0.8l-3.6 0.9l-5 0.2l-9.3 -0.4l-2.5 0.4l-6.8 1.5l-3.3 0.2l-2.5 -0.2l-3.4 -0.7l-19.4 -5.1l-5.9 -0.7l-5.8 0l-6.8 0.4l-5 0.9l-5.9 1.5l-2.5 0.5l-3.4 0.2l-3.4 -0.1l-3.3 -0.6l-3.4 -1.2l-2.5 -1.8l-1.4 -1.7l-0.6 -1.7l0 -0.9l0.2 -0.8l0.5 -0.8l0.9 -0.9l1.4 -0.8l2.1 -0.9l9.5 -3ZM155.7 72.1l3.4 -0.4l3.3 0.3l7.9 1.8l9 1.8l4.2 1.3l2.2 1.1l1.1 0.8l1.3 1.7l0.3 0.9l0.2 1.6l-0.5 1.7l-2.9 4.4l-1.4 1.5l-1.4 0.8l-2.5 0.8l-4.8 0.7l-5.9 0.2l-5.1 -0.5l-4.2 -1.2l-1.9 -0.8l-2.3 -1.3l-3.6 -2.9l-1.7 -1.7l-1.2 -1.7l-0.9 -1.6l-0.5 -1.7l0 -1.7l0.3 -0.8l1.1 -1.7l1.5 -1.3l1.6 -0.9Z" fill="#FFAB33" fill-rule="evenodd"/>
<path d="M10.1 0l32.3 0l2.5 2.5l6.4 9.2l0.8 1.7l0.5 1.7l-0.1 1.7l-0.2 0.8l-1.1 1.7l-4.9 5.1l-1.6 2.4l-2.6 4.8l-1.4 1.9l-2 1.7l-2.5 1.2l-4.2 1l-5.1 0.3l-9.2 -0.8l-9.3 -1l-8.4 -0.7l0 -23l6.4 -7.2l1.9 -2.5l1.4 -2.5ZM104.3 0l35.5 0l4.2 0.8l4.1 1l4.3 1.6l3.4 1.6l4.9 3.1l3.3 1.4l3.4 0.7l9.3 0.9l3.3 0.8l2.6 0.9l2.8 1.5l2.2 1.6l1.5 1.7l0.3 0.8l0 0.9l-0.6 0.8l-1.1 0.9l-1.6 0.8l-2.7 1l-5 1l-5.1 0.1l-3.2 -0.4l-2.7 -0.6l-10.1 -3.7l-5 -1.2l-5.9 -0.9l-14.3 -1.4l-7.9 -1.4l-3.9 -1l-4.2 -1.4l-3.4 -1.5l-2.5 -1.6l-2.3 -2.1l-1.3 -1.7l-1.8 -3.3l-0.7 -1.7ZM222.2 0l39.8 0l0.2 1.7l-0.6 1.7l-0.7 0.9l-1.8 1.6l-2.4 1.2l-2.5 0.9l-3.4 0.9l-3.4 0.4l-3.3 0.1l-3.4 -0.4l-3.4 -1l-12.6 -6l-3.3 -2ZM75.7 11.7l2.5 -0.5l2.5 -0.2l5.1 0.3l4.2 0.9l1.7 0.8l1.7 1.1l1 1l1.2 1.7l0.6 1.7l0.3 1.6l-0.2 2.6l-0.4 1.6l-0.7 1.7l-1 1.4l-1.2 1.1l-1.2 0.9l-3.5 1.4l-5 0.9l-5.9 0.2l-4.2 -0.6l-4.2 -1.4l-4.2 -2.2l-3.1 -2.5l-1.3 -1.7l-0.6 -1.7l0.1 -1.7l0.3 -0.8l0.7 -0.8l2.2 -1.6l2.5 -1.3l5.9 -2.5ZM302.9 12.2l0 23l-4.2 -0.1l-2.5 0.4l-1.7 0.7l-5.1 2.5l-2 0.7l-2.2 0.5l-3.3 0.3l-4.2 -0.2l-1.7 -0.4l-2.6 -0.8l-1.6 -0.9l-1.5 -1l-2.4 -2.5l-2.9 -4.2l-0.4 -0.8l0 -0.9l0.4 -0.8l1 -0.9l2.4 -1l3.4 -0.8l3.3 -0.4l2.6 0l3.3 0.4l8.4 1.5l1.7 0l1.7 -0.5l1.7 -1l1.7 -1.8l4.7 -8.1ZM202.8 19.2l5 -0.5l4.3 0.1l3.3 0.6l3.4 1.3l1.6 1.1l0.8 0.8l0.9 1.7l0.2 0.9l0.1 1.6l-0.9 2.6l-1.1 1.6l-1.6 1.4l-1.7 0.7l-1.7 0.2l-2.5 -0.2l-3.4 -0.8l-2.5 -0.9l-2.8 -1.2l-2.7 -1.7l-1.8 -1.7l-1.8 -2.5l-0.5 -1.7l0 -0.8l0.4 -0.5l0.8 -0.8l1.7 -0.7ZM278.5 62.7l1.7 -0.4l2.5 0.1l1.7 0.5l0.8 0.8l-0.3 0.9l-1.2 0.8l-1.8 0.4l-1.7 0l-1.7 -0.4l-1 -0.8l-0.2 -0.9l0.8 -0.8ZM245.7 64.3l0.8 0.8l0.4 2l-0.4 1.7l-0.8 0.7l-0.9 -0.7l-0.4 -1.7l0.5 -2.1ZM84.2 71.2l2.5 0.1l2.5 0.8l1 0.8l0 0.8l-0.8 0.9l-1 0.4l-2.5 0.2l-2.7 -0.6l-1.6 -0.9l-0.7 -0.8l0.2 -0.8l0.6 -0.3ZM160.7 74.6l3.4 -0.1l5 0.5l6.7 1l4.5 1.2l2.3 0.9l1.9 1.6l0.8 1.6l-0.1 1.7l-1.1 1.7l-2.4 1.7l-3.3 1.3l-3.4 0.5l-2.5 -0.2l-2.5 -0.4l-5.9 -2.1l-5.9 -1.5l-2.1 -1l-1.3 -1.2l-0.7 -1.3l-0.2 -1.7l0.2 -0.8l0.6 -0.8l1 -0.9l2.5 -1.2Z" fill="#FF9933" fill-rule="evenodd"/>
<path d="M16 0.3l0.2 -0.3l17.2 0l2.8 1.9l2.5 2.1l7.6 7.2l1.7 2.3l0.4 1.6l-0.1 0.9l-0.3 0.9l-1.1 1.6l-3.9 4.2l-6.1 7.5l-1.9 1.7l-2.6 1.7l-2.9 1l-1.7 0.2l-1.7 0l-2 -0.4l-10.6 -2.8l-2.5 -0.2l-6.8 0.2l-2.5 -0.4l-1.7 -0.6l0 -11.1l0.5 -1l1.2 -1.8l1.7 -2.1l5 -4.8l2.8 -3ZM110.2 0l24 0l7 1.7l5.3 1.7l3 1.6l2.1 1.7l4.9 4.6l3.4 2.5l0.8 0.3l1.7 0.1l9.2 -1l2.6 0l2.5 0.3l3.3 0.9l2.6 1.3l1.2 1.1l0.5 0.8l0.2 0.8l-0.2 0.9l-0.7 0.8l-1.3 0.9l-1.4 0.6l-3.4 0.7l-3.3 -0.1l-3.4 -0.7l-2.5 -1l-2.2 -1.2l-5.4 -4l-1.7 -0.5l-10.1 -0.2l-8.4 -0.4l-5.1 -0.6l-4.2 -0.8l-10.1 -3.2l-3.1 -1.2l-2.8 -1.4l-2.5 -2l-1.4 -1.6l-1.8 -3.4ZM224.7 0l33.1 0l0.1 0.8l-0.4 1.2l-1.1 1.4l-1.2 0.8l-1.7 0.8l-4.4 1.3l-2.5 0.4l-2.5 0.1l-3.4 -0.4l-3.4 -0.9l-10.1 -4.1l-2.9 -1.4ZM79.1 14.1l4.2 -0.3l3.4 0.4l2.5 0.9l1.5 0.8l1.1 0.9l0.8 0.9l0.8 1.6l0.4 2.5l-0.5 2.5l-0.7 1.3l-1.1 1.2l-2.3 1.6l-3.4 1.1l-4.2 0.5l-4.2 -0.1l-3.3 -0.6l-3.4 -1.2l-3.4 -2.1l-1.7 -1.7l-0.9 -1.7l-0.1 -0.8l0.2 -0.9l0.5 -0.8l0.9 -0.8l2.8 -1.7l4.2 -1.8l3.4 -1.2ZM302.9 19.4l0 11.1l-0.8 -0.6l-0.9 -1l-0.4 -1.3l0 -0.8l0.6 -3.4ZM206.2 20.8l3.4 -0.5l3.3 0.2l2.6 0.7l2.3 1.5l1.4 1.6l0.5 1.7l-0.1 1.7l-1.1 2.5l-0.8 0.9l-1.4 0.7l-2.5 0.2l-2.6 -0.5l-2.5 -0.9l-2.5 -1.2l-1.2 -0.9l-1.7 -1.6l-0.8 -1.7l-0.1 -0.9l0.1 -0.8l0.5 -0.8l0.7 -0.7l0.8 -0.6ZM275.2 27.6l2.5 -0.1l1.8 0.2l3 0.8l1.7 0.9l1.2 0.8l1.4 1.7l0.3 0.8l0 0.9l-0.4 0.8l-0.8 0.8l-1.4 0.8l-1.7 0.4l-1.7 0.2l-3.4 -0.2l-1.7 -0.5l-1.3 -0.7l-1.1 -0.8l-0.7 -0.8l-0.9 -1.7l-0.5 -1.7l0.1 -0.8l0.7 -0.9l1.2 -0.5ZM162.4 77.1l2.5 -0.6l3.4 -0.2l4.2 0.4l4.2 0.7l2.5 0.8l1.2 0.6l1.1 0.9l0.6 0.8l0.3 0.8l-0.1 0.9l-0.4 0.8l-0.8 0.9l-1 0.5l-1.7 0.6l-3.4 0.2l-5 -0.8l-2.6 -0.8l-3.5 -1.4l-1.7 -0.9l-1.2 -0.8l-0.6 -0.8l0 -0.9l0.5 -0.8Z" fill="#FF7033" fill-rule="evenodd"/>
<path d="M117 0l10.7 0l3.6 1.3l8.9 2.1l2.2 0.8l2.7 1.7l0.8 0.8l1.1 1.7l0.2 0.8l-0.1 0.9l-0.8 0.8l-0.7 0.3l-1.7 0.3l-2.5 0.2l-4.2 -0.4l-5.1 -1.2l-6.5 -2.6l-3.5 -1.6l-1.2 -0.9l-1.8 -1.6l-2.6 -3.4ZM228.1 0l25.3 0l-0.1 0.8l-0.6 0.9l-1.9 1.3l-3.3 1.1l-3.4 0.3l-3.1 -0.2l-2.8 -0.6l-10.5 -3.6ZM24.4 4l1.7 -0.1l2.5 0.5l1.7 0.7l2.5 1.3l3.4 2.2l5.4 3.9l1.3 1.4l0.5 1.2l0 0.8l-0.7 1.7l-3.2 3.6l-5 4.8l-3.4 3.6l-1.7 1.2l-1.6 0.4l-1.7 -0.2l-1.7 -1l-4.2 -3.8l-5.1 -3.6l-2 -1.7l-1.3 -1.6l-0.3 -0.9l0.1 -1.7l0.7 -1.6l1.5 -2.6l2.2 -2.7l2.1 -2.3l2.1 -1.7l2.5 -1.4ZM174.2 15.9l2.5 0l1.7 0.4l1.2 0.5l1.1 0.8l0.3 0.9l-0.3 0.8l-1.2 0.8l-1.9 0.5l-2.6 0l-1.7 -0.5l-1.5 -0.8l-0.7 -0.8l-0.1 -0.9l0.7 -0.8l0.8 -0.5ZM81.6 16.7l2.5 -0.1l2.5 0.4l1.7 0.6l1.2 0.8l0.8 0.9l0.8 1.6l0 1.7l-0.7 1.7l-1.4 1.7l-1.5 0.9l-2.5 0.9l-2.6 0.4l-3.3 0l-3.2 -0.6l-2.2 -0.8l-1.4 -0.8l-1.8 -1.7l-0.4 -0.8l-0.2 -0.9l0.3 -0.8l0.6 -0.9l1.2 -0.8l2.9 -1.5l2.5 -1ZM207 22.5l1.7 -0.5l2.5 -0.2l1.7 0.4l1.7 0.8l1.4 1.3l0.9 1.6l0.2 1.7l-0.4 1.7l-0.8 0.8l-0.5 0.3l-0.8 0.2l-1.7 0l-2.5 -0.7l-2.7 -1.4l-1.7 -1.7l-0.7 -1.7l0.1 -0.8l0.4 -0.9ZM167.5 78.7l1.7 -0.5l1.7 -0.1l4.2 0.5l2.5 1l0.8 0.9l0.2 0.8l-0.6 0.8l-1.2 0.5l-2.6 0.1l-2.5 -0.4l-2.9 -1l-1.3 -0.8l-0.6 -0.9Z" fill="#FF5C10" fill-rule="evenodd"/>
<path d="M234.8 0l10.9 0l-0.4 0.8l-1.2 0.4l-1.7 0.2l-2.6 -0.2l-5.7 -1.2ZM24.4 12.4l1.7 -0.5l1.7 -0.2l3.3 0.6l1.7 0.6l1.7 0.9l1.4 1.2l0.4 0.9l0.1 0.8l-0.2 0.9l-0.5 0.8l-6.3 6.2l-0.8 0.7l-0.8 0.2l-0.9 -0.2l-0.8 -0.6l-3.7 -4.6l-1 -1.7l-0.3 -1.7l0.5 -1.7l1.1 -1.5ZM81.6 20l2.5 -0.3l1.7 0.3l0.8 0.5l0.5 0.4l0.4 0.8l0 0.9l-0.4 0.8l-0.8 0.9l-1.3 0.8l-2.6 0.6l-1.6 0l-1.7 -0.3l-0.9 -0.3l-1.1 -0.8l-0.3 -0.9l0.3 -0.8l0.7 -0.9l1.3 -0.8ZM209.5 24.1l1.7 0.1l1.9 0.9l0.9 0.9l0.5 0.8l0.2 0.9l-0.2 0.8l-0.8 0.6l-0.8 0.1l-0.9 -0.1l-1.7 -0.6l-1.2 -0.8l-0.7 -0.9l-0.4 -0.8l0.1 -0.9l0.6 -0.7Z" fill="#FC560B" fill-rule="evenodd"/>
<use href="#coast"/>
</g>
<rect x="0" y="0" width="302.9" height="100.6" fill="none" stroke="#000" stroke-width="1.35"/>
<path d="M0 100.6v5.6M50.5 100.6v5.6M101 100.6v5.6M151.5 100.6v5.6M202 100.6v5.6M252.5 100.6v5.6M302.9 100.6v5.6M0 0h-5.2M0 25.1h-5.2M0 50.3h-5.2M0 75.4h-5.2M0 100.6h-5.2" stroke="#000" stroke-width="1.3" fill="none"/>
<text transform="translate(0 121.6) scale(1.045 1)" font-size="10.5" text-anchor="middle">0</text>
<text transform="translate(50.5 121.6) scale(1.045 1)" font-size="10.5" text-anchor="middle">60E</text>
<text transform="translate(101 121.6) scale(1.045 1)" font-size="10.5" text-anchor="middle">120E</text>
<text transform="translate(151.5 121.6) scale(1.045 1)" font-size="10.5" text-anchor="middle">180</text>
<text transform="translate(202 121.6) scale(1.045 1)" font-size="10.5" text-anchor="middle">120W</text>
<text transform="translate(252.5 121.6) scale(1.045 1)" font-size="10.5" text-anchor="middle">60W</text>
<text transform="translate(302.9 121.6) scale(1.045 1)" font-size="10.5" text-anchor="middle">0</text>
<text transform="translate(-12 3.8) scale(1.045 1)" font-size="10.5" text-anchor="end">60N</text>
<text transform="translate(-12 28.9) scale(1.045 1)" font-size="10.5" text-anchor="end">30N</text>
<text transform="translate(-12 54) scale(1.045 1)" font-size="10.5" text-anchor="end">0</text>
<text transform="translate(-12 79.2) scale(1.045 1)" font-size="10.5" text-anchor="end">30S</text>
<text transform="translate(-12 104.3) scale(1.045 1)" font-size="10.5" text-anchor="end">60S</text>
<text x="151.5" y="-5.2" font-size="12" text-anchor="middle">Observations</text>
</g>
<text x="-1" y="11.6" font-size="18" font-weight="bold" style="stroke:none">a</text>
<g transform="translate(379.6 28.1)">
<g clip-path="url(#mc)">
<rect x="0" y="0" width="302.9" height="100.6" fill="#FFE97A"/>
<path d="M0.8 0l302.1 0l0 100.6l-302.9 0l0 -100.6Z" fill="#FFE066" fill-rule="evenodd"/>
<path d="M0.8 0l302.1 0l0 100.6l-110.2 0l-15.2 -1.4l-13.4 -0.8l-16.9 -0.3l-19.3 -0.7l-24.4 0.1l-20.2 -0.3l-15.2 0l-7.6 0.3l-16.8 1.7l-9.8 1.4l-33.9 0l0 -100.6Z" fill="#FFC832" fill-rule="evenodd"/>
<path d="M0.8 0l302.1 0l0 92.2l-5 0.8l-7.6 1.7l-2.5 0.3l-4.2 0.1l-13.5 -0.7l-4.2 0.2l-6.8 0.8l-4.2 -0.1l-2.5 -0.6l-1.5 -0.8l-1 -0.8l-1.5 -1.7l-2.5 -4.2l-1.4 -1.7l-2.2 -1.6l-2 -0.9l-2.2 -0.5l-3.4 -0.3l-3.3 0.2l-9.3 0.9l-3.3 0l-3.4 -0.3l-2.5 -0.4l-2.6 -0.8l-2.5 -1l-4.2 -2.1l-1.7 -0.6l-0.8 -0.1l-0.9 0.1l-1.4 0.7l-1.5 1.7l-1.2 2.5l-2 5.9l-0.9 1.6l-1.4 1.7l-1.1 0.9l-1.8 0.8l-3.8 0.6l-12.6 -0.3l-15.2 0.3l-5 -0.1l-4.7 -0.5l-13.8 -2.3l-5.1 -0.4l-5.9 -0.3l-16.8 0.1l-17.7 -0.3l-25.2 0l-37.9 1.2l-18.5 0l-6.7 0.3l0 -92.2Z" fill="#FFAB33" fill-rule="evenodd"/>
<path d="M0.8 0l302.1 0l0 83.7l-12.6 -1.9l-7.6 -0.6l-13.5 -0.4l-4.2 0.2l-6.7 0.7l-2.5 -0.1l-3.4 -0.6l-7.6 -2.2l-3.3 -0.7l-3.4 -0.3l-6.7 -0.1l-11 0.7l-4.2 -0.1l-3.3 -0.9l-2.6 -1.1l-2.5 -1.6l-4.2 -3.3l-1.7 -1l-1.7 -0.6l-2.5 -0.3l-2.5 0.5l-2.5 1.2l-1.7 1.2l-5.1 4.5l-1.6 1.2l-2.6 1.3l-2.5 0.8l-11.8 3.3l-2.5 0.5l-2.5 0.3l-3.4 0l-6.7 -0.7l-4.2 -0.1l-22.8 0.9l-35.3 0.1l-74.1 -0.2l-10.1 -0.2l-5.8 -0.4l0 -83.7Z" fill="#FF9933" fill-rule="evenodd"/>
<path d="M0.8 0l302.1 0l0 77.5l-10.9 -1.2l-12.7 -0.7l-8.4 -0.1l-16 0.2l-14.3 -1.2l-5.9 -0.3l-5.8 0.1l-8.5 0.7l-3.3 -0.2l-2.6 -0.5l-2.5 -1.2l-2.5 -1.8l-4.2 -3.9l-1.7 -1l-1.7 -0.8l-2.5 -0.7l-4.2 -0.8l-5.9 -0.6l-3.4 -0.2l-17.6 1.7l-4.2 0.8l-3.4 1.1l-7.6 3.9l-4.2 1.6l-18.5 5.5l-5.9 1l-5 0.1l-19.4 0l-48.8 -0.4l-21.9 0.7l-9.2 0.1l-9.3 -0.4l-10.9 -1.5l0 -77.5Z" fill="#FF7033" fill-rule="evenodd"/>
<path d="M0.8 0l302.1 0l0 72.2l-26.9 -0.6l-21.9 0.1l-20.2 -1l-5 0.1l-7.6 0.6l-3.4 -0.1l-2.5 -0.7l-1.8 -1l-1.7 -1.7l-2.4 -3.5l-1.7 -1.7l-1.7 -1l-4.9 -2.2l-1.1 -0.8l-0.6 -0.9l-0.4 -0.8l0 -0.8l0.3 -3.4l-0.3 -0.8l-0.9 -0.9l-3 -1.4l-7.6 -2.5l-7.6 -3.2l-4.2 -1.4l-6.7 -1.2l-7.6 -0.5l-43.7 0l-11 0.3l-4.2 -0.2l-2.5 -0.4l-2.5 -0.8l-1.7 -1l-3.6 -2.8l-1.6 -0.8l-2.4 -0.7l-3.3 -0.4l-9.3 -0.4l-9.3 -0.9l-3.3 0.3l-1.2 0.4l-1.4 0.9l-0.8 0.8l-0.4 0.8l0 0.9l0.4 1.3l0.8 1l2.6 1.6l6.6 2.8l8.7 4.2l2.3 1.4l3.6 2.8l2.3 1.5l6.3 2.7l1.5 0.8l1.1 0.8l0.5 0.9l0.2 0.8l-0.3 0.9l-0.7 0.8l-1.4 0.8l-1.3 0.5l-3.3 0.7l-12.7 0.8l-11.7 1.8l-12.8 1.3l-4.1 0.9l-10.1 3.5l-4.2 0.9l-4.2 0.7l-6.7 0.5l-5.9 0l-5.1 -0.3l-11.7 -1.1l0 -72.2ZM13.2 43.6l-1.9 0.8l-1 0.9l-0.3 0.8l0.4 0.9l1 0.8l1.2 0.5l5.9 1.9l2.5 -0.1l2.5 -1.1l1.8 -1.2l0.6 -0.8l0.2 -0.9l-0.3 -0.8l-0.8 -0.9l-1.8 -0.8l-1.3 -0.3l-4.2 -0.3l-2.6 0.2Z" fill="#FF5C10" fill-rule="evenodd"/>
<path d="M0.8 0l276.9 0l1.6 0.6l0.3 0.2l0.2 0.9l-0.5 2.5l-1.6 5.9l-0.1 2.5l0.4 0.8l0.5 0.6l0.8 0.3l0.9 0.1l2.5 -0.8l5.1 -2.4l10.1 -4.5l3 -1.7l2 -1.7l0 39.3l-3.4 0.4l-2.5 -0.1l-2.5 -0.5l-5.1 -1.6l-3.3 -0.8l-3.4 -0.5l-5.9 -0.5l-4.2 -0.7l-5 -1.5l-3.3 -1.6l-3.5 -2.1l-1.7 -0.4l-1.6 0.5l-3.7 2l-2.2 0.6l-1.7 0.2l-3.4 0l-11.8 -0.5l-16.8 0.3l-5 -0.2l-5.1 -0.6l-9.2 -1.8l-4.2 -0.7l-16 -1.4l-5.9 -0.4l-10.1 0l-24.4 0.9l-21.9 -0.3l-11 0.6l-2.5 -0.2l-5.9 -0.9l-3.3 -0.3l-4.2 -0.1l-11.8 0.6l-3.4 -0.2l-7.6 -1l-2.5 -0.1l-2.5 0.2l-1.7 0.4l-1.7 0.6l-1.7 0.8l-1.3 1l-1.7 1.7l-3.7 4.7l-0.8 0.7l-1.7 1l-2.5 0.8l-2.6 0.2l-1.6 -0.2l-5.9 -1.8l-3.4 -0.7l-4.2 -0.3l-5.9 -0.1l-5.1 0.3l-4.2 0.6l-4.2 0.9l-7.5 2.1l0 -39.3l0.4 -0.8l0.3 -0.8l-0.1 -0.9l-0.6 -0.8ZM283.6 0l6.7 0l-3.3 0.2l-3.6 -0.2Z" fill="#FC560B" fill-rule="evenodd"/>
<path d="M10.1 0l150.7 0l6.4 3.4l2.5 1.6l2 1.7l1.4 1.7l0.8 1.7l0.4 1.6l0.1 1.7l-0.2 1.7l-0.8 1.7l-0.9 1.2l-1.7 1.3l-1.7 0.8l-2.4 0.9l-6 1.1l-15.1 1.5l-7.6 0.4l-21 0.4l-11 -0.3l-3.3 0.1l-4.2 0.6l-14.3 2.8l-5.1 0.6l-5 -0.2l-9.3 -1.3l-4.2 -0.1l-2.5 0.4l-2.9 0.7l-2.2 0.8l-5 2.3l-1.7 0.6l-2.5 0.5l-7.6 0.8l-11 1.5l-10.9 1.2l-10.1 1.6l-4.2 0.2l0 -26.6l4.3 -2.2l3.4 -2.5l0.8 -0.9l1.1 -1.6l0.5 -1.7l-0.1 -1.7ZM207.9 0.2l0.3 -0.2l40.2 0l6.7 1.6l2.6 0.9l2.4 1.1l1.9 1.4l1.5 1.7l1 1.7l0.8 2.5l0.3 2.5l-0.3 2.5l-0.7 1.7l-0.6 0.8l-0.9 0.9l-2.2 1.1l-3.3 0.9l-5.1 0.7l-9.3 0.3l-4.2 0.5l-10.5 2.3l-8 2.4l-3.3 0.8l-3.4 0.1l-3.4 -0.6l-2.5 -0.9l-2.5 -1.2l-2.5 -1.5l-2.1 -1.6l-0.8 -0.8l-1.1 -1.7l-0.6 -1.7l-0.2 -1.7l0 -1.6l0.4 -2.6l0.8 -2.5l0.9 -1.6l2.6 -3.4ZM302.9 10.6l0 26.6l-2.4 -0.3l-1.8 -0.5l-9.3 -3.8l-7.9 -1.6l-2.2 -0.6l-1.6 -0.8l-1.3 -1.1l-0.4 -0.8l0 -0.9l0.5 -0.8l0.9 -0.9l7.8 -3.4l2.6 -1.7l6.7 -5l3.4 -2Z" fill="#E8281E" fill-rule="evenodd"/>
<path d="M21.9 0l122.2 0l6.4 3.4l3.6 2.5l0.8 0.8l1.2 1.7l0.5 1.7l-0.1 0.8l-0.3 0.8l-0.6 0.9l-0.9 0.8l-1.6 0.9l-2.3 0.8l-2.7 0.6l-6.1 1.1l-6.5 0.6l-17.7 1.3l-4.2 0.1l-8.4 -0.2l-3.4 0.2l-5 0.9l-10.9 3l-4.3 0.8l-3.3 0.4l-3.4 -0.1l-6.7 -1l-3.4 -0.3l-3.3 -0.1l-4.3 0.3l-5.8 0.8l-15 3.3l-6.9 1.1l-5.1 0.2l-7.5 -1l-3.4 0l-2.5 0.6l-5.9 2.6l-2.6 0.5l-2.5 -0.1l0 -14.3l11 -4.5l2.5 -1.3l2.5 -1.6l2.5 -2.3l1.2 -1.7l1.2 -2.5l0.4 -2.5ZM233.1 2.5l4.2 -0.6l3.4 0.2l2.4 0.5l3 0.8l4.2 1.7l2.7 1.7l1.5 1.6l0.5 1.1l0.3 1.4l-0.4 1.7l-0.6 0.9l-1 0.8l-2.3 0.8l-2.8 0.4l-6.7 0.3l-2.5 0.4l-10.9 3.8l-4.3 0.9l-3.3 0.5l-3.4 0.2l-3.5 -0.6l-2 -0.8l-1.2 -0.8l-1.8 -1.7l-0.4 -0.9l-0.4 -1.7l0.2 -1.6l0.6 -1.7l0.9 -1.7l1.7 -2.1l1.7 -1.6l1.7 -1.2l1.7 -0.7l1.7 -0.4l9.2 -0.3ZM303 16.4l0 14.3l-1.7 -0.4l-1.7 -0.8l-2.5 -1.6l-0.9 -1l-0.5 -0.9l-0.2 -1.6l0.5 -1.7l1.7 -2.5l1.9 -1.8Z" fill="#C81E14" fill-rule="evenodd"/>
<use href="#coast"/>
</g>
<rect x="0" y="0" width="302.9" height="100.6" fill="none" stroke="#000" stroke-width="1.35"/>
<path d="M0 100.6v5.6M50.5 100.6v5.6M101 100.6v5.6M151.5 100.6v5.6M202 100.6v5.6M252.5 100.6v5.6M302.9 100.6v5.6M0 0h-5.2M0 25.1h-5.2M0 50.3h-5.2M0 75.4h-5.2M0 100.6h-5.2" stroke="#000" stroke-width="1.3" fill="none"/>
<text transform="translate(0 121.6) scale(1.045 1)" font-size="10.5" text-anchor="middle">0</text>
<text transform="translate(50.5 121.6) scale(1.045 1)" font-size="10.5" text-anchor="middle">60E</text>
<text transform="translate(101 121.6) scale(1.045 1)" font-size="10.5" text-anchor="middle">120E</text>
<text transform="translate(151.5 121.6) scale(1.045 1)" font-size="10.5" text-anchor="middle">180</text>
<text transform="translate(202 121.6) scale(1.045 1)" font-size="10.5" text-anchor="middle">120W</text>
<text transform="translate(252.5 121.6) scale(1.045 1)" font-size="10.5" text-anchor="middle">60W</text>
<text transform="translate(302.9 121.6) scale(1.045 1)" font-size="10.5" text-anchor="middle">0</text>
<text transform="translate(-12 3.8) scale(1.045 1)" font-size="10.5" text-anchor="end">60N</text>
<text transform="translate(-12 28.9) scale(1.045 1)" font-size="10.5" text-anchor="end">30N</text>
<text transform="translate(-12 54) scale(1.045 1)" font-size="10.5" text-anchor="end">0</text>
<text transform="translate(-12 79.2) scale(1.045 1)" font-size="10.5" text-anchor="end">30S</text>
<text transform="translate(-12 104.3) scale(1.045 1)" font-size="10.5" text-anchor="end">60S</text>
<text x="151.5" y="-7.8" font-size="12" text-anchor="middle">Coupled (CESM2 LE)</text>
</g>
<text x="345.3" y="12.3" font-size="18" font-weight="bold" style="stroke:none">b</text>
<g transform="translate(33 179.5)">
<g clip-path="url(#mc)">
<rect x="0" y="0" width="302.9" height="100.6" fill="#FFF5CC"/>
<path d="M0.8 0l302.1 0l0 100.6l-302.9 0l0 -100.6ZM174.1 34.4l-1.1 0.8l-0.2 0.9l0.6 0.8l1.6 0.9l0.9 0.2l2.5 0.2l5.9 -0.2l2 -0.2l1.8 -0.9l-0.1 -0.8l-2 -0.9l-0.9 -0.1l-7.5 -1.1l-1.7 0Z" fill="#FFE97A" fill-rule="evenodd"/>
<path d="M0.8 0l302.1 0l0 100.6l-113.6 0l-5 -0.3l-5.9 -0.1l-14.3 0.4l-164.1 0l0 -100.6ZM199.2 2.5l-0.8 0.8l0 0.9l0.5 0.8l1.4 0.6l0.8 -0.1l1.3 -0.5l0.9 -0.8l0.4 -0.9l-0.1 -0.8l-0.8 -0.5l-1.7 -0.1ZM172.7 31l-4.5 0.8l-2 0.9l-1.1 0.8l-0.7 0.9l-0.3 0.8l0 0.8l0.3 0.9l1.4 1.6l2.5 1.6l2.8 1l3.9 0.6l4.2 0.1l4.2 -0.4l4.2 -0.9l4.3 -1.3l1.3 -0.7l0.9 -0.8l0.2 -0.8l-0.5 -0.9l-1.1 -0.8l-3.4 -1.4l-6.5 -2l-2.7 -0.6l-3.4 -0.3Z" fill="#FFE066" fill-rule="evenodd"/>
<path d="M0.8 0l193.7 0l-1.3 0.8l-0.5 0.9l-0.1 1.7l0.7 2.5l1.1 1.6l1.6 1.4l1.7 0.6l1.7 0.2l2.5 -0.5l1.7 -0.8l1.3 -0.9l1.8 -1.6l3.4 -4.2l2.1 -1.7l90.7 0l0 100.6l-75.7 0l-12.7 -1.2l-18.5 -1.1l-5.9 -0.2l-26.9 0.5l-49.6 2l-25.3 0l-14.3 -0.6l-5.9 -0.5l-5.9 -0.9l-10.1 -2.4l-5 -1l-5.9 -0.6l-11.8 -0.9l-2.5 0.2l-1.7 0.4l-6.5 2.9l-8.9 3.4l-9.8 0l0 -100.6ZM150.3 29.3l-3.3 0.8l-1.4 0.9l-0.6 0.8l-0.1 0.9l0.1 0.8l1.4 3.4l1.7 3l1.7 2.4l1.7 1.7l1.6 1.2l1.7 0.8l2.5 0.8l7.6 1.2l1.6 0.6l1.1 0.8l0.7 1.9l0.7 4l0.1 1.7l-0.5 2.5l-2 3.3l-0.2 0.9l0 0.8l0.4 0.8l0.8 0.9l1.4 0.8l2.4 0.9l4.5 0.8l14.3 1.5l8.4 1l3.3 0.1l2.6 -0.9l5 -3.9l2.9 -2.8l1.7 -2.5l0.8 -2.6l0.2 -3.3l-0.5 -3.4l-1.8 -5.8l-0.1 -1.7l0.2 -2.5l-0.2 -1.7l-0.8 -1.7l-0.7 -0.8l-2.5 -1.7l-3.8 -1.7l-5.5 -1.8l-12.6 -2.7l-4.2 -0.7l-5.1 -0.3l-5.8 -0.1l-16 0.2Z" fill="#FFC832" fill-rule="evenodd"/>
<path d="M0.8 0l183.7 0l1.4 0.9l1.7 1.8l3.4 6.5l1.2 1.7l0.9 0.8l1.3 0.7l2.5 0.5l1.7 -0.1l2.5 -0.6l2.5 -1l1.7 -0.9l2.5 -2.1l5.2 -5.7l3.3 -2.5l86.6 0l0 80.8l-3.4 -0.4l-2.5 0.3l-1.3 0.6l-1 0.9l-0.6 0.8l-0.2 0.8l0.3 1.7l1.1 1.7l7.6 7.1l0 4.8l-0.9 0.7l-1.7 0.8l-51.7 0l-5.4 -1.3l-4.2 -0.9l-14.4 -1.1l-5.8 -0.6l-6.9 -1.1l-7.5 -1.6l-4.2 -0.4l-5 0.4l-10.9 1.8l-7.6 0.6l-14.3 0.1l-14.3 0.3l-27 -0.1l-6.7 -0.4l-7 -0.7l-4.8 -0.9l-7.5 -1.9l-4.3 -0.5l-2.5 0.2l-1.7 0.4l-5.9 2.6l-1.6 0.5l-2.6 0.5l-2.5 0l-3.4 -0.6l-2.5 -0.8l-7.6 -3.9l-4.2 -1.6l-5.8 -1.7l-8.5 -2l-6.7 -1.2l-5 -0.5l-5.1 -0.1l-9.3 0.1l-4.2 -0.3l-5 -1l-6.7 -2.1l0 -80.8ZM142.5 26.8l-6.1 0.8l-3.1 0.9l-1.4 0.8l-0.4 0.9l0.3 0.8l0.7 0.8l4 3.4l2.1 2.5l2 3.7l3.5 8.9l1.7 2.5l3.8 4.2l1.3 1.7l0.7 1.6l0.6 3.4l0.7 1.7l1.1 1.2l1.7 1.1l3.1 1l4.5 0.9l19.3 2.2l4.3 0.7l3.3 0.8l3.4 1.1l2.3 1l2.7 1.7l4.2 3.2l1.7 0.8l1.7 0.3l1.7 -0.2l1.7 -0.4l1.7 -0.8l1.7 -1.2l3.8 -3.4l3.4 -3.3l2 -2.5l1.1 -1.7l1.3 -3.4l0.6 -3.3l0 -4.2l-0.7 -4.2l-1.2 -3.4l-4.6 -10l-1.3 -1.7l-0.9 -0.8l-2.7 -1.7l-15.2 -6.6l-4.2 -1.4l-3.3 -0.7l-3.4 -0.1l-11.8 0.4l-14.3 -0.5l-5.9 -0.1l-6.7 0.2ZM264 83l-0.7 0.8l-0.1 0.9l0.3 0.8l1.6 0.9l1.7 0l0.8 -0.1l1.5 -0.8l0.5 -0.8l-0.3 -1l-0.8 -0.7l-0.9 -0.4l-1.7 -0.3l-0.8 0.2ZM0.3 94.7l0.8 1.7l0.1 0.8l-0.4 0.9l-0.8 0.9l0 -4.7Z" fill="#FFAB33" fill-rule="evenodd"/>
<path d="M0.8 0l175.9 0l5 2.5l2.6 2.1l1.9 2.9l2 5.1l1.2 4.2l0 1.6l-0.3 0.9l-1.3 1.7l-1.9 1.3l-1.6 0.9l-3.4 1.2l-5.1 0.6l-4.2 -0.1l-10.1 -0.5l-8.4 -0.1l-16 0.4l-11.8 0.8l-5.8 0.9l-1.6 0.4l-2.1 0.9l-1.2 0.8l-0.7 0.8l-0.4 0.9l0.1 0.8l0.5 0.9l1.1 0.9l6.8 2.7l2.7 1.4l2.2 1.7l1.5 1.6l1 1.7l1 2.5l1.7 7.6l1.1 3.3l2.8 5.9l2.6 6.7l1.1 1.7l1.6 1.5l2.5 1l3.4 0.4l4.2 0.1l11 -0.4l7.5 0.1l8.5 0.7l6.7 1.1l5 1.6l2.6 1.2l1.4 1.1l0.8 0.8l1 1.7l0.3 1.7l-0.5 1.6l-1.3 2.2l-2.6 2.4l-2.8 2.1l-3.2 1.7l-3.2 1.1l-4.2 0.8l-4.2 0.3l-5.9 0l-11 -0.4l-5.9 -0.5l-23.5 -3.3l-5.1 -1.1l-7.6 -2.3l-4.2 -1l-11.7 -1.8l-11 -2.1l-3.3 -0.5l-5.9 -0.2l-14.3 0l-12.7 -1l-5.9 -0.2l-12.6 0.2l-16.8 0.7l-4.2 -0.4l-4.2 -1.2l-3.4 -1.8l-5 -3.5l0 -74ZM218.8 0.4l0.5 -0.4l83.7 0l0 74l-1.7 -0.9l-1.7 -0.6l-3.4 -0.6l-2.5 0.1l-2.5 0.3l-9.3 1.8l-2.5 0.3l-2.5 -0.3l-3.3 -1.2l-6.1 -3.3l-0.3 -0.9l2.1 -1.3l1.7 -1.5l1.6 -2.2l0.5 -1.7l0 -0.8l-0.2 -0.9l-0.5 -0.8l-0.8 -0.8l-1.3 -0.9l-2 -0.8l-3.2 -0.7l-3.4 -0.3l-1.7 0.2l-0.8 0.4l-0.3 0.4l-0.3 1.7l0.3 1.6l1 2.6l1.1 1.6l1.6 1.8l2.5 2.1l0.6 0.3l-0.4 0.9l-7.8 4.6l-5.9 3.7l-1.7 0.4l-1.6 -0.2l-1.7 -0.9l-1.3 -0.9l-1.6 -1.7l-1.3 -2l-4.4 -7.2l-1.3 -3.4l-0.2 -2.5l0.5 -2.5l1.2 -2.4l1.6 -2.6l0 -0.9l-0.6 -0.8l-3.1 -2.5l-8 -5l-1.7 -1.4l-3.8 -3.7l-2.1 -1.7l-3 -1.6l-9.9 -4.2l-3.1 -1.7l-5.2 -3.4l-3.2 -2.5l-1.3 -1.7l-0.3 -0.8l0 -0.8l0.5 -0.9l1 -0.8l1.4 -0.8l7.1 -3.4l3.4 -2.2l2.1 -2l4.5 -5ZM252.9 17.6l-1.7 0.8l-1.1 0.9l-3.6 3.6l-1.6 1.1l-3.6 2l-1.1 0.8l-0.6 0.9l-0.3 0.8l0 0.8l0.3 0.9l0.7 0.8l1.2 0.9l2.5 0.6l1.7 -0.1l1.7 -0.5l1.7 -1.2l2.5 -2.7l1.4 -1.2l6.4 -3.3l1.4 -1.3l0.8 -1.2l0.1 -0.9l-0.3 -0.8l-0.7 -0.9l-1.5 -0.8l-1.7 -0.4l-1.7 -0.1ZM248.2 52l1.2 0.8l1.4 0.3l1.7 0l0.6 -0.3l-0.6 -0.8l-0.9 -0.2l-1.7 -0.2ZM276 91.3l3.4 -0.4l2.5 0l2.5 0.4l1.7 0.5l2.5 1.1l1.3 1l0.7 0.9l0.4 0.8l-0.1 0.8l-0.7 0.9l-0.7 0.3l-1.3 0.5l-2.1 0.3l-16 0.8l-6.7 -0.1l-4.2 -0.6l-1.5 -0.4l-2 -0.8l-2.3 -1.7l-1.1 -1.7l-0.1 -0.8l0.5 -0.9l1.4 -0.4l7.6 0.4l4.2 0.1l5.1 -0.3Z" fill="#FF9933" fill-rule="evenodd"/>
<path d="M0.8 0l169.8 0l4.4 2.1l3.4 1.9l1.6 1.2l1.6 1.5l1.3 1.7l1.1 2.5l0.6 2.5l0 2.5l-0.7 2.5l-1.2 1.7l-1 0.8l-2.5 1.3l-3.4 0.8l-4.2 0.1l-11.8 -0.5l-22.7 0l-8.4 0.2l-6.7 0.5l-5.1 0.7l-3.3 0.9l-3.4 1.3l-7.6 4l-2.5 0.8l-3.4 0.4l-9.2 0l-6.8 0.4l-3.3 0l-3.4 -0.4l-6 -1.2l-2.4 -0.2l-1.7 0.1l-3 0.9l-9.6 4.2l-1.7 1l-4.2 3l-1.7 0.9l-2.5 0.9l-2.5 0.4l-5.1 0.1l-10.1 -0.8l-12.6 0.3l-10.9 -0.3l0 -40.7ZM221.3 0.8l0.7 -0.8l80.9 0l0 40.7l-12.6 -0.3l-16.8 0.6l-5.9 -0.1l-3.4 -0.4l-2.5 -0.8l-1.7 -1l-0.8 -1.1l-0.5 -1.5l0 -0.9l0.3 -1.7l0.5 -0.8l1.4 -1.7l1.6 -1.1l1.7 -0.8l4.2 -1.2l4.2 -0.7l3.4 -0.1l6.7 0.6l2.6 0l2.5 -0.7l1.6 -1l0.9 -0.8l1.7 -2.3l1.1 -2.8l0.5 -2.5l-0.1 -3.3l-0.7 -2.6l-0.8 -1.5l-0.7 -1l-1.8 -1.4l-2.6 -0.8l-3.3 0l-3.4 0.6l-4.7 1.6l-5.4 2.3l-3.4 1l-2.5 0.5l-9.2 0.8l-2.6 0.5l-2.5 0.9l-2.4 1.6l-4.3 3.7l-5.9 3.6l-1.7 1.4l-1 1.3l-0.7 1.7l-0.7 5.9l-0.4 0.8l-1.4 0.8l-1.7 0.1l-2.5 -0.5l-12.8 -4.6l-4 -1.7l-4 -2.5l-1.9 -1.6l-1.6 -1.7l-1.1 -1.7l-0.3 -0.8l0 -0.9l0.2 -0.8l0.6 -0.9l0.8 -0.8l4.7 -3.2l2.6 -2l1.6 -1.7l4.3 -4.8ZM13.5 62l4.2 -0.5l5.1 0.2l7.5 0.9l10.1 1.7l3.9 1.1l2 0.9l1.1 0.8l0.7 0.8l0.2 0.8l-0.1 0.9l-0.5 0.8l-0.9 0.9l-1.4 0.8l-3.3 1.4l-4.2 1.1l-16.3 2.5l-3.9 0.3l-3.4 -0.3l-2.5 -0.9l-1.3 -0.7l-1.2 -1l-1.9 -2.4l-0.8 -1.7l-0.3 -1.7l0 -0.8l0.5 -1.6l1.3 -1.7l2 -1.5ZM161.6 74.5l5 -0.5l5.9 0l5.1 0.4l5 0.8l3.6 1.1l2 0.8l1.3 0.9l1 0.8l0.6 0.9l0.3 0.8l-0.1 0.8l-0.8 1.7l-1.8 1.7l-2.7 2l-5 3.2l-1.7 0.8l-2.4 0.7l-5.2 0.5l-4.2 0l-4.2 -0.4l-3.4 -0.5l-2.5 -0.7l-3.2 -1.4l-4.4 -3.1l-5 -2l-1.3 -0.8l-0.7 -0.8l-0.1 -0.9l0.3 -0.8l0.9 -0.8l0.9 -0.4l5.9 -1.6l6.3 -2.2Z" fill="#FF7033" fill-rule="evenodd"/>
<path d="M0.8 0l163.3 0l4.2 1.7l3.5 1.7l3.2 1.8l2.5 1.8l1.7 1.8l1.2 2.1l0.5 1.7l0.2 2.5l-0.4 1.7l-0.4 0.8l-1.5 1.7l-2.1 1.1l-2.5 0.6l-3.4 0.2l-9.3 -0.4l-11.7 0l-15.2 -0.3l-10.1 0.3l-5 0.5l-5.1 0.9l-4.2 1.2l-8.4 3l-4.2 0.6l-10.1 -0.4l-11 0l-10.1 -1.3l-4.2 -0.1l-2.5 0.5l-2.5 1l-4.9 2.6l-6.1 2.9l-5.8 3.7l-1.7 0.6l-1.5 0.4l-1.9 0.1l-2.5 -0.1l-6.8 -1.2l-3.3 -0.3l-3.4 0.2l-8.4 0.7l-7.6 -0.2l-3.3 -0.5l0 -35.6ZM224.7 0.8l0.5 -0.8l77.8 0l0 35.6l-2.6 -0.6l-1.4 -0.6l-1.1 -0.7l-1 -1l-0.6 -1.7l0 -2.5l1.7 -7.5l0.4 -4.2l-0.1 -3.4l-0.4 -2.5l-0.6 -2.5l-0.6 -1.7l-1.3 -2l-1.7 -1.3l-2.3 -0.9l-2.7 -0.3l-3.4 -0.1l-4.2 0.2l-4.2 0.5l-3.4 0.6l-4.2 1.5l-6 3.5l-2.4 1.1l-3.4 1l-7.6 1.6l-2.5 0.9l-2.5 1.5l-5.1 4.4l-5 2.7l-1.7 1.1l-1.7 1.8l-2.8 4.9l-0.8 0.8l-1.4 0.7l-2.5 0.2l-2.6 -0.3l-4.2 -1l-3.5 -1.3l-2.9 -1.7l-1 -0.8l-1.5 -1.7l-0.9 -1.6l-0.3 -0.9l0.2 -1.7l1.1 -1.6l4.9 -4.2l2.5 -2.5l7.1 -8.4ZM164.1 76.2l3.4 -0.5l4.2 -0.2l4.2 0.1l4 0.7l2.9 0.8l1.8 0.9l1.2 0.8l0.6 0.8l0.2 0.9l-0.1 0.8l-1.3 1.7l-2.2 1.7l-2.1 1.1l-3.3 1.2l-3.4 0.6l-4.2 0.4l-3.4 -0.1l-3.3 -0.5l-3.1 -1.1l-2 -1.4l-0.8 -1.1l-0.4 -0.8l-0.2 -1.7l0.7 -1.7l0.8 -0.8l1.1 -0.8l1.6 -0.9Z" fill="#FF5C10" fill-rule="evenodd"/>
<path d="M24.4 0.4l0.8 -0.4l126.3 0l11.8 2.7l3.8 1.5l3.3 1.6l3 2l2.4 2.2l1 1.7l0.4 1.7l0.1 0.8l-0.4 1.7l-1 1.3l-1.7 1l-2.5 0.5l-3.4 0.2l-16 -0.1l-18.5 -0.6l-7.6 0.1l-5 0.5l-5.9 0.9l-4.2 1l-9.3 2.8l-2.5 0.4l-2.5 0.2l-17.7 -0.4l-4.2 -0.3l-19.4 -3.1l-2.5 -0.6l-3.4 -1.1l-0.8 -0.1l-0.8 0.2l-0.9 0.4l-1.5 1.8l-1 0.9l-2 0.8l-2.2 0.4l-8.4 0.8l-5.1 0.1l-2.5 -0.3l-2.7 -1l-3 -1.7l-2.7 -1.9l-1.7 -0.8l-0.8 0.1l-0.9 0.5l-3.4 4.7l-1.6 1.6l-1.4 0.9l-1.2 0.3l-0.8 -0.1l-0.8 -0.4l-0.6 -0.7l-0.4 -0.8l-0.3 -2.5l0.3 -10.1l0.3 -1.7l0.8 -1.6l0.7 -0.8l0.8 -0.4l0.9 -0.2l1.7 0l1.7 0.6l3.3 2.4l0.9 0.4l0.8 -0.2l1.7 -1.4l5 -5.9l1.7 -1.4ZM232.3 0l2.5 0l-1.7 0.2l-1.2 -0.2ZM249.1 0.7l5 -0.3l5.1 0.3l1.7 0.5l0.5 0.4l0.2 0.9l-0.7 1.7l-1.7 1.6l-1.3 0.9l-2.1 0.9l-3.1 0.7l-2.8 0.3l-3.2 -0.3l-1.8 -0.7l-0.9 -0.9l-0.4 -1.7l0.4 -1.7l0.5 -0.8l1.2 -1l1.7 -0.5ZM219.6 19.3l1.7 0.2l1.7 0.6l1.1 0.9l0.6 0.8l0.4 1.7l-0.3 1.7l-0.5 0.8l-1.3 1l-2.6 0.4l-3.2 -0.6l-1.8 -0.8l-1 -0.8l-0.6 -0.9l-0.3 -0.8l-0.1 -0.8l0.3 -0.9l0.9 -1l1 -0.7l1.5 -0.5ZM166.6 78l2.5 -0.5l3.4 -0.3l2.5 0.1l2.5 0.5l2.6 0.9l0.8 0.7l0.3 0.3l0.4 0.8l-0.2 0.9l-0.5 0.8l-1.7 1.4l-1.7 0.8l-1.6 0.5l-2.6 0.4l-2.5 0.2l-4.2 -0.5l-1.1 -0.3l-1.7 -0.8l-0.8 -0.9l-0.4 -0.8l0 -0.8l0.2 -0.9l0.7 -0.8l1.1 -0.9Z" fill="#FC560B" fill-rule="evenodd"/>
<path d="M61.4 0l77.4 0l1.7 1.3l1.7 1l4.2 1.6l4.2 0.8l9.3 1.1l4.2 1.2l2.7 1.4l2.3 1.7l1.4 1.6l0.3 0.9l0 0.8l-0.8 1.1l-1.7 0.8l-2.6 0.3l-4.9 0.3l-10.2 0.1l-16.8 -1.2l-4.2 0l-3.4 0.2l-4.2 0.6l-5.1 1l-5 1.2l-9.3 2.7l-5 0.8l-4.2 0.1l-10.1 -0.2l-6.8 -0.5l-5 -0.9l-4.4 -1.4l-3.4 -1.6l-1.8 -1.7l-0.6 -0.8l-0.8 -1.7l-0.5 -2.5l0.2 -2.6l0.9 -5l-0.1 -2.5ZM171.7 80.4l2 0.1l0.7 0.8l-1.2 0.8l-2.1 0l-0.8 -0.8l0.6 -0.5Z" fill="#E8281E" fill-rule="evenodd"/>
<path d="M72.4 0l53.9 0l0.5 3.4l0 1.6l-0.7 1.7l-0.8 0.8l-2.6 1.7l-6 2.5l-14.5 5.1l-3.7 0.8l-4.2 0.4l-5.9 0.1l-5.9 -0.4l-5.1 -0.8l-2.8 -1l-1.6 -0.8l-1.1 -0.8l-1.2 -1.7l-0.4 -1.7l0 -1.7l1.7 -5.8l0.1 -1.7l-0.5 -1.7Z" fill="#C81E14" fill-rule="evenodd"/>
<use href="#coast"/>
</g>
<rect x="0" y="0" width="302.9" height="100.6" fill="none" stroke="#000" stroke-width="1.35"/>
<path d="M0 100.6v5.6M50.5 100.6v5.6M101 100.6v5.6M151.5 100.6v5.6M202 100.6v5.6M252.5 100.6v5.6M302.9 100.6v5.6M0 0h-5.2M0 25.1h-5.2M0 50.3h-5.2M0 75.4h-5.2M0 100.6h-5.2" stroke="#000" stroke-width="1.3" fill="none"/>
<text transform="translate(0 121.6) scale(1.045 1)" font-size="10.5" text-anchor="middle">0</text>
<text transform="translate(50.5 121.6) scale(1.045 1)" font-size="10.5" text-anchor="middle">60E</text>
<text transform="translate(101 121.6) scale(1.045 1)" font-size="10.5" text-anchor="middle">120E</text>
<text transform="translate(151.5 121.6) scale(1.045 1)" font-size="10.5" text-anchor="middle">180</text>
<text transform="translate(202 121.6) scale(1.045 1)" font-size="10.5" text-anchor="middle">120W</text>
<text transform="translate(252.5 121.6) scale(1.045 1)" font-size="10.5" text-anchor="middle">60W</text>
<text transform="translate(302.9 121.6) scale(1.045 1)" font-size="10.5" text-anchor="middle">0</text>
<text transform="translate(-12 3.8) scale(1.045 1)" font-size="10.5" text-anchor="end">60N</text>
<text transform="translate(-12 28.9) scale(1.045 1)" font-size="10.5" text-anchor="end">30N</text>
<text transform="translate(-12 54) scale(1.045 1)" font-size="10.5" text-anchor="end">0</text>
<text transform="translate(-12 79.2) scale(1.045 1)" font-size="10.5" text-anchor="end">30S</text>
<text transform="translate(-12 104.3) scale(1.045 1)" font-size="10.5" text-anchor="end">60S</text>
<text x="151.5" y="-7.8" font-size="12" text-anchor="middle">AMIP (CESM2)</text>
</g>
<text x="-0.8" y="162.8" font-size="18" font-weight="bold" style="stroke:none">c</text>
<g transform="translate(379.6 179.5)">
<g clip-path="url(#mc)">
<rect x="0" y="0" width="302.9" height="100.6" fill="#FFFFFF"/>
<path d="M0.8 0l302.1 0l0 100.6l-85.2 0l-9 -0.6l-14.3 -0.4l-6.8 0.2l-7.1 0.8l-180.5 0l0 -100.6ZM176.6 35.2l-1.9 0.8l-0.5 0.9l0.2 0.8l1.1 0.9l2.3 0.8l3.9 0.4l3.4 -0.2l2.5 -0.9l1.2 -1l0.1 -0.8l-0.6 -0.9l-2.4 -0.9l-2.5 -0.3l-2.5 -0.1Z" fill="#FFF5CC" fill-rule="evenodd"/>
<path d="M0.8 0l302.1 0l0 100.6l-75.6 0l-4.3 -0.8l-5.9 -0.5l-22.7 -0.6l-5.1 0.1l-5.9 0.4l-5.3 0.6l-4.7 0.8l-173.4 0l0 -100.6ZM173.5 33.5l-3 0.8l-1.8 0.9l-1.1 0.8l-0.4 0.9l0.1 0.8l1 1.3l1.9 1.2l2.3 1l3.4 0.9l3.3 0.5l3.4 0.2l3.4 -0.2l2.5 -0.5l2.5 -0.9l1.8 -1l0.9 -0.8l0.5 -0.9l0.3 -0.8l-0.2 -0.8l-0.5 -0.9l-0.9 -0.8l-1.7 -0.9l-2.7 -0.8l-3.4 -0.5l-4.2 -0.2l-4.2 0.2Z" fill="#FFE97A" fill-rule="evenodd"/>
<path d="M0.8 0l194.5 0l0.3 0.8l1.3 0.9l2.5 0.5l2.5 0.1l2.5 -0.1l2.6 -0.5l2 -0.9l1.2 -0.8l92.7 0l0 100.6l-68.9 0l-5.1 -1.5l-5.9 -0.8l-9.3 -0.4l-17.7 -0.3l-7.5 0.2l-9.3 0.7l-8.4 1l-5.3 1.1l-165.5 0l0 -100.6ZM172.8 31.9l-4.8 0.8l-9.7 2.6l-2.3 0.8l-1.2 0.8l-0.5 0.9l0.1 0.8l0.7 0.8l2.2 1.1l8.3 2.3l11.1 4l2.5 0.7l3.4 0.4l2.5 -0.1l3.4 -0.3l3.3 -0.8l1.7 -0.6l2.5 -1.3l2.6 -1.8l1 -1l1.1 -1.7l0.3 -1.7l-0.2 -0.8l-1.1 -1.7l-2.2 -1.7l-1.7 -0.8l-2.4 -0.9l-4.1 -0.8l-5 -0.5l-5.9 0ZM286.9 76.3l-1.7 1l-1.6 1.3l-1.7 1.7l-0.7 1l-0.3 0.9l0 0.8l0.3 0.8l0.9 0.9l1.8 0.8l2.2 0.5l2.5 0.3l2.5 0l1.7 -0.2l2.3 -0.6l1.4 -0.8l0.7 -0.9l0.4 -0.8l0 -0.8l-0.5 -1.7l-1.4 -1.7l-1.2 -1l-2.5 -1.5l-1.7 -0.5l-1.7 0Z" fill="#FFE066" fill-rule="evenodd"/>
<path d="M0.8 0l145.7 0l-0.9 0.8l-0.2 0.9l0.2 0.8l0.7 0.9l1.5 0.8l1.1 0.4l3.4 0.7l6.7 0.6l21 0.6l17.7 1.4l3.4 -0.1l2.5 -0.5l5.2 -1.4l4.1 -1.4l1.6 -0.9l1.4 -1.1l0.7 -0.8l0.9 -1.7l85.4 0l0 77.6l-6.4 -5.5l-5.4 -5.3l-0.8 -0.5l-1.7 -0.6l-2.5 0l-1.7 0.6l-1.7 0.9l-1.7 1.5l-0.7 0.9l-1 1.7l-2.4 5l-2.8 4.2l-0.7 1.7l-0.1 0.8l0.1 0.8l0.3 0.9l0.8 0.8l1.3 0.8l2.3 0.9l4 0.8l6.5 0.8l5.9 0.2l5 -0.2l3.4 -0.8l0 12.6l-62 0l-4.5 -1.9l-2.5 -0.9l-3.4 -0.9l-2.5 -0.4l-5.9 -0.5l-16 -0.2l-8.4 0.1l-7.6 0.4l-20.2 1.7l-13.4 1.6l-4.2 0.2l-4.2 -0.1l-6.9 -0.8l-16.7 -3.1l-2.7 -1.1l-2.7 -2.5l-1.4 -0.8l-2.2 -0.9l-5.3 -1.1l-5.9 -0.4l-4.2 0.4l-3.6 1.1l-2.7 1.7l-3.8 3.3l-1.7 0.8l-1.7 0.6l-3.3 0.7l-20.2 3l-63.1 0l0 -12.6l1.6 -0.8l0.9 -0.9l0.6 -0.8l0.3 -1.7l-0.3 -1.6l-0.7 -1.7l-1.2 -1.7l-1.2 -1.2l0 -77.6ZM174.7 30.2l-12.2 1.2l-10.1 0.5l-3.4 0.5l-1.7 0.4l-1.8 0.8l-1.1 0.8l-0.7 0.8l-0.4 0.9l-0.1 1.6l0.6 2.6l1 1.9l1.8 2.3l1.5 1.4l2.6 1.7l6.1 2.7l1.4 0.9l1.7 1.7l0.9 1.6l0.5 2.5l-0.2 2.5l-0.6 2.6l0 1.6l0.3 0.9l0.8 0.9l1.1 0.7l2 0.9l4.5 1l26.1 2.9l12.6 1.6l21.9 3.4l7.5 1.6l1.7 0.1l1.5 -0.6l0 -0.8l-4 -3.1l-1.4 -1.9l-1.1 -2.4l-1.8 -5.2l-1.5 -2.5l-1.8 -2l-4.2 -3.3l-1.7 -1.6l-1.4 -2.3l-1.6 -4.2l-1.3 -2.5l-3.6 -4.2l-3 -2.5l-4.5 -2.5l-6.9 -3.4l-2.9 -1.1l-2.5 -0.7l-3.4 -0.6l-5 -0.3l-5.9 -0.1ZM33.1 82.2l-2 0.8l-1.3 0.9l-0.9 0.8l-1.1 1.7l-0.2 0.8l0.1 0.9l0.4 0.8l0.8 0.8l1.3 0.9l1.8 0.6l1.6 0.3l2.6 0.1l2.5 -0.3l1.7 -0.4l1.7 -0.7l1.6 -1.3l0.5 -0.8l0.3 -1.7l-0.7 -1.7l-0.9 -1.1l-1.7 -1.1l-1.7 -0.6l-2.5 -0.3l-1.7 0.1ZM168.3 0l15.2 0l-3.4 0.5l-3.4 0.2l-4.2 -0.2l-4.3 -0.5Z" fill="#FFC832" fill-rule="evenodd"/>
<path d="M0.8 0.1l21.6 -0.1l1.4 2.5l1.4 1.9l1.7 1.6l2.2 1.5l2.8 1.3l2.6 0.7l2.5 0.5l2.5 0.1l2.5 -0.3l1.7 -0.4l2.5 -1l1.7 -1l1.8 -1.6l1.6 -1.8l1.3 -2.3l0.5 -1.7l80 0l-0.3 1.7l0.1 1.6l0.5 1.7l0.9 1.7l1.1 1.4l1.5 1.1l1.9 0.8l1.7 0.4l2.5 0.3l3.4 -0.1l10.9 -1.3l5.9 -0.4l11 -0.1l5 0.4l5.1 0.5l4.2 0.8l7.5 1.8l3.4 0.3l2.5 -0.5l6.8 -3l6.3 -1.6l2.3 -0.8l1.5 -1l1.4 -1.5l1.1 -1.7l1 -2.5l80.6 0l0 70.8l-2.3 -2.1l-1.1 -1.7l-0.8 -1.6l-1.7 -5l-1.1 -1.7l-0.8 -0.9l-1.4 -1l-1.7 -0.7l-1.7 -0.4l-2.5 0.2l-3.4 0.9l-11.8 5.6l-2.3 1.3l-2.3 1.7l-3.4 3.3l-0.4 0.6l-0.8 0l-2.8 -1.4l-4 -1.2l-3.3 -0.6l-5.9 -0.5l-2.6 -0.7l-2.2 -1.2l-1.5 -1.7l-3.6 -5.9l-4.2 -5l-2 -5l-1.1 -1.7l-0.9 -0.8l-8.9 -5.9l-3 -1.7l-8.7 -2.9l-7.6 -3.2l-2.5 -0.8l-4.2 -0.7l-4.3 -0.2l-24.4 1l-5 0l-6.7 -0.6l-11 -1.5l-3.3 0l-1.7 0.4l-0.9 0.3l-0.9 0.7l-0.8 0.8l-0.8 1.7l-0.4 2.5l0.2 2.5l0.6 2.5l3.6 9.3l0.5 2.5l-0.3 1.7l-0.4 0.8l-2.5 3.3l-0.9 1.7l-0.4 1.5l0 1l0.6 2.6l1.1 2l1.7 2.5l1.7 1.6l1.6 0.8l1.7 0.3l1.7 0l5.9 -0.5l2.5 0l22.7 1.6l6.8 0.7l7.5 1.4l4.3 1.1l3.1 1l3.7 1.7l4.9 2.7l2.6 0.9l8.4 1.4l3.3 0.9l2.3 0.8l1.8 0.9l2.7 1.6l1 0.9l0.6 0.8l0 0.8l-1.3 0.9l-2.9 0.8l-5 0.9l-5.1 0.3l-6.7 -0.3l-3.4 0.1l-12.6 2.4l-12.6 1.6l-20.2 1.3l-5.9 0.1l-4.2 -0.3l-3.9 -1.1l-3.5 -1.6l-3.5 -2.5l-1.5 -0.9l-1.9 -0.7l-1.7 -0.4l-25.2 -2.9l-5.9 -0.3l-3.4 0.3l-3.2 0.7l-11.9 3.6l-5.1 1.1l-13.4 2.2l-3.4 0.1l-2.1 -0.3l-2.1 -0.9l-0.9 -0.8l-1.6 -2.2l-4.4 -7l-1.5 -1.7l-3.4 -2.4l-3.4 -1.6l-1.6 -0.6l-2.6 -0.5l-4.2 -0.2l-4.2 0.5l-9.2 2.1l-2.6 0.2l-1.7 -0.2l-1.6 -0.4l-1.7 -0.7l-10.1 -5.1l-2.5 -1.6l0 -70.8ZM246 18.4l-5.1 1.7l-3.6 1.6l-1.2 0.9l-0.8 0.8l-0.4 0.9l-0.2 0.8l0.2 0.8l0.4 0.9l0.7 0.8l1.3 1l2.5 1.4l2.5 1.1l4.2 1.1l2.6 0.2l1.6 -0.1l1.7 -0.4l1.7 -0.6l2.5 -1.7l3.3 -3.7l1.6 -2.5l0.3 -1.6l-0.3 -0.9l-0.7 -0.8l-1.2 -0.9l-2 -0.8l-2.6 -0.5l-2.6 -0.2l-3.3 0.2ZM285.7 18.4l-9.2 3.4l-2.2 1.2l-1.1 1.3l-0.2 0.8l0.5 1.7l0.6 0.8l1.9 1.4l1.7 0.8l1.6 0.4l2.6 0.3l2.5 -0.2l1.7 -0.3l1.7 -0.6l1.4 -0.9l1.3 -1.7l0.6 -1.7l0.3 -2.5l-0.5 -2.5l-0.6 -1.3l-0.9 -0.7l-1.6 -0.2ZM263.4 71.2l0.8 -0.5l0.9 0.9l0.8 1.9l0.2 1.1l-0.2 1.2l-0.5 1.3l-1.2 1.1l-0.8 0.4l-0.8 -0.1l-0.7 -0.6l-0.3 -0.8l0 -0.8l0.5 -2.5ZM260 84.6l0.8 0l1.7 0.5l4.4 2.1l4.9 1.5l5.9 0.9l16 1.8l4.1 0.9l2.5 0.8l2.6 1.3l0 6.2l-49.9 0l-4.2 -0.8l-2.4 -0.8l-1.7 -0.9l-3.5 -2.5l-2.6 -2.5l-1.3 -1.7l-0.1 -0.8l0.7 -0.9l2.3 -0.8l12.2 -2.5ZM0.7 94.7l3.5 2.3l1.7 0.6l1.7 0l3.3 -0.4l2.6 0.1l2.5 0.5l9.2 2.8l-20.2 0l-0.8 -0.4l-0.8 -0.1l-3.4 0.5l0 -6.3Z" fill="#FFAB33" fill-rule="evenodd"/>
<path d="M63.1 0l45.6 0l4.3 1.7l4 1.8l2.5 1.4l2.5 2.2l1.7 2.2l1.9 4.1l0.8 3.4l0 1.6l-0.2 1.7l-2.3 8.4l-0.6 4.2l0.2 2.5l0.3 1.7l2.3 6.7l0.6 3.3l-0.1 3.4l-1.2 5l0 2.5l1 2.6l4.8 7.5l2.9 6.7l1.1 1.7l1.1 0.8l0.9 0.3l2.5 0l4.2 -1l8.2 -2.6l2.7 -0.5l4.2 -0.4l5.9 -0.2l6.8 0.1l5.8 0.4l4.5 0.6l4 0.8l4.2 1.4l2.4 1.1l2.4 1.7l1.5 1.7l0.8 1.7l0.2 0.8l0 1.7l-0.2 0.8l-0.9 1.7l-1.7 1.7l-3 1.6l-4.1 1.4l-4.2 1l-5 0.7l-4.2 0.4l-14.3 0.2l-5.1 -0.3l-4.2 -1l-2.5 -1.3l-3.7 -2.7l-3 -1.9l-4.2 -1.8l-2.6 -0.6l-2.5 0l-7.6 0.9l-5.9 0l-5.8 -0.5l-9.3 -1.5l-3.4 -0.2l-2.5 0.3l-8.4 1.9l-4.2 0.8l-5.9 0.5l-6.7 0.2l-4.3 -0.2l-4.2 -0.7l-2.5 -0.7l-2.5 -1.3l-5.1 -3.8l-2.7 -2.3l-2.1 -2.6l-1 -1.6l-0.2 -0.9l-0.1 -0.8l0.2 -0.8l0.3 -0.9l1.3 -1.7l2.7 -2.4l2.5 -1.6l2.5 -0.9l2.5 -0.6l6.8 -0.7l16 -0.1l13.4 0.6l5.1 -0.1l3.3 -0.6l2.6 -0.8l2.4 -1.1l1.1 -0.9l0.7 -0.8l0.5 -0.9l0.1 -1.6l-1.2 -4.2l-0.2 -1.7l-0.1 -5.9l-0.3 -2.5l-0.9 -2.5l-1.3 -2l-1.7 -1.7l-2.5 -1.6l-2.5 -0.7l-2.6 -0.2l-2.5 0.3l-2.5 0.6l-10.1 3.1l-3.4 0.8l-6.7 1.1l-5.1 0.2l-4.2 -0.1l-10.1 -1.1l-3.3 -0.2l-3.4 0.4l-7.6 2.2l-4.2 0.6l-10.1 -0.2l-6.7 0.1l-4.2 -0.4l-2.5 -0.7l-9.3 -3.2l-2.5 -1.1l0 -22.2l2.6 -2.5l5.8 -4.1l2.5 -1.1l1.7 -0.1l0.9 0.3l1.6 1.1l3.4 4l1.7 1.7l1.7 1.2l2.2 1.2l5.3 2l5.1 1.4l3.4 0.4l3.3 -0.3l2.5 -0.6l2.6 -1.1l2.5 -1.4l1.7 -1.3l2.5 -2.3l2.5 -2.7ZM227.2 0l66.4 0l-1.6 2.4l-1.4 1.8l-3.1 3.3l-3.1 3l-1.7 1.4l-2.4 1.5l-1.8 0.8l-1.6 0.5l-2.6 0.4l-2.5 0.1l-11.8 -1.3l-8.4 -0.3l-17.7 0.8l-2.5 0.3l-1.7 0.6l-0.8 0.6l-0.9 1l-0.9 2.4l-0.8 4.2l-0.7 7.5l-0.5 0.9l-0.4 0.3l-1.7 0.4l-2.5 0l-4.2 -0.3l-5.1 -0.9l-2.5 -0.9l-2.5 -1.2l-5.9 -3.5l-2.6 -0.8l-2.5 0.1l-10.9 1.6l-7.6 0.5l-10.1 0.2l-6.7 -0.6l-4.2 -1l-4.1 -1.5l-2.7 -1.7l-1 -0.8l-1.2 -1.7l-0.2 -0.8l0.2 -0.9l0.4 -0.8l0.8 -0.8l2.5 -1.7l2.7 -1.3l3.6 -1.2l3.7 -0.9l4.5 -0.6l4.2 -0.2l4.2 0l4.2 0.3l3.4 0.4l3.4 0.7l3.3 1l2.4 1l7.7 4.1l1.7 0.3l0.9 -0.1l1.7 -1l4.2 -4.2l2.7 -1.7l1.5 -0.5l1.7 -0.2l5 -0.1l2.5 -0.3l1.9 -0.5l1.4 -0.9l1.4 -1.7l0.7 -1.6l1.4 -5.1l0.3 -0.8ZM302.9 13.4l0 22.2l-1.6 -1.2l-0.8 -1.7l-0.3 -2.5l0 -6.7l0.2 -3.4l0.5 -2.5l0.9 -2.5ZM268.4 92.1l5 -0.3l5.1 0l5.9 0.4l5 0.6l3.4 0.9l2.3 1l1.1 0.8l0.6 0.9l0.2 0.8l-0.2 0.9l-0.8 0.8l-0.7 0.3l-1.7 0.7l-3.3 0.7l-19.5 0l-3.3 -0.9l-4.6 -1.6l-3.6 -1.7l-0.8 -0.9l0.3 -0.8l1.6 -0.8l2.9 -0.9Z" fill="#FF9933" fill-rule="evenodd"/>
<path d="M75.7 0.8l6.7 -0.3l10.1 0.8l6.8 1l4.2 1.3l2.7 1.5l8.2 5l1.7 1.2l1.5 1.3l1.2 1.7l0.8 1.7l0.2 1.6l-0.6 2.6l-0.9 1.6l-1.4 1.6l-1.6 1.3l-1.7 0.8l-1.7 0.3l-1.7 0.1l-6.7 -0.8l-3.4 0.2l-3.4 1l-12.6 5.1l-4.2 1.2l-3.4 0.6l-5.8 0.4l-5.9 -0.6l-5.1 -1.3l-2.5 -1.1l-2 -1.2l-1.4 -1.3l-0.8 -1.2l-0.3 -0.9l0 -1.6l0.4 -1.7l0.7 -1.7l2.5 -4.2l5.9 -7.4l3.2 -3.5l1.9 -1.7l1.7 -1.2l1.7 -0.9l2.5 -0.8ZM231.4 0l55.4 0l-4.9 5.7l-1.7 1.5l-1.7 1.2l-1.7 0.9l-1.6 0.5l-2.6 0.4l-2.5 0l-22.7 -0.2l-5.9 -0.5l-4.2 -0.8l-3.4 -1.4l-1.7 -1.2l-0.8 -1.1l-0.4 -0.8l-0.4 -1.7l0 -0.8l0.4 -1.7ZM165.8 13.3l4.2 -0.4l5.1 0.1l3.6 0.4l3.6 0.9l3.9 1.6l2.2 1.7l1.2 1.7l0.2 0.8l-0.1 0.9l-0.4 0.8l-0.7 0.8l-1.4 0.9l-2.2 0.8l-5.7 1.1l-6.8 0.3l-5.9 -0.3l-5 -1l-2.7 -0.9l-1.5 -0.9l-1.1 -0.8l-0.7 -0.8l-0.4 -0.9l-0.1 -0.8l0.2 -0.9l0.4 -0.8l0.8 -0.8l1.7 -1.2l2.6 -1.1l2.5 -0.7ZM210.4 14l2.5 -0.3l2.5 0.6l2 0.7l1.4 0.9l1.1 0.8l0.7 0.9l0.7 1.6l0.3 1.7l-0.1 3.4l-0.9 2.5l-0.7 0.8l-1.1 0.8l-1.7 0.6l-1.7 0.3l-1.6 0l-1.7 -0.3l-1.7 -0.6l-1.5 -0.8l-1.2 -0.8l-1.3 -1.7l-0.4 -0.8l-0.4 -1.7l0.1 -1.7l0.7 -2.5l0.8 -1.7l0.7 -0.9l0.8 -0.9ZM111.9 65.3l4.2 -0.2l4.2 0.5l2.5 1l1.7 1.2l0.9 0.8l0.8 1.2l0.7 1.4l0.7 3.4l-0.1 3.3l-0.6 1.7l-0.7 1l-1.7 1.2l-2.5 0.8l-3.4 0.4l-3.3 -0.1l-2.6 -0.5l-1.6 -0.8l-0.6 -0.3l-1.3 -1.7l-1.5 -1.1l-1.7 -0.6l-3.4 -0.5l-2.5 0.5l-5 2.4l-2.6 0.9l-2.5 0.8l-2.5 0.4l-5.1 0.3l-15.9 -0.6l-2.6 -0.4l-2.5 -0.7l-2.5 -1.1l-1.7 -1l-1.3 -1l-1.4 -1.6l-0.8 -1.7l-0.3 -0.9l0.2 -1.6l0.5 -0.9l0.7 -0.8l1.6 -1.3l3.3 -1.7l2.5 -0.8l2.6 -0.5l6.7 -0.4l11.8 0.1l5 0.3l8.5 1.1l2.5 0.1l2.5 -0.2l6.7 -1.3ZM165.8 74.6l5.9 -0.2l5 0.3l4.8 0.8l3.7 1.1l2.8 1.4l1.1 0.8l1.5 1.7l0.7 1.7l0.1 0.8l-0.3 1.7l-1.3 1.7l-2.1 1.4l-3.4 1.4l-3.4 1l-3.3 0.7l-3.4 0.5l-4.2 0.2l-5 -0.1l-5.9 -0.5l-2.1 -0.5l-2.1 -0.7l-2.6 -1.3l-5.8 -3.8l-1.2 -0.9l-0.8 -0.8l-0.2 -0.8l0.5 -0.9l0.8 -0.5l7.8 -3.7l2.3 -0.8l3.3 -0.8ZM276 94.6l2.5 -0.3l2.5 -0.1l5.1 0.5l2.9 0.9l1.2 0.8l0.3 0.9l-0.5 0.8l-1.7 0.9l-3 0.5l-2.9 0.3l-3.2 0l-2.4 -0.3l-2.3 -0.5l-1.6 -0.9l-0.6 -0.8l0 -0.9l1.2 -1Z" fill="#FF7033" fill-rule="evenodd"/>
<path d="M235.6 0l42.1 0l-1 1.7l-1.5 1.5l-1.7 0.9l-1.7 0.6l-3.4 0.6l-10.1 1l-6.7 0.4l-6.7 -0.4l-3.4 -0.7l-2.5 -0.8l-1.7 -0.9l-1.5 -1.4l-0.4 -0.8l-0.1 -0.9ZM75.7 5.7l3.4 -0.6l3.3 0l8.4 1.1l4.3 1l2.7 1.2l4.3 2.5l7.3 1.9l2.5 1.1l1.6 1.2l0.5 0.8l0.3 0.8l0 0.9l-0.4 0.8l-0.8 0.9l-1.2 0.6l-1.7 0.5l-3.4 0l-5.9 -0.8l-1.6 0.1l-1.7 0.3l-2.5 1l-5.1 2.8l-4.2 2l-4.7 1.8l-3 0.9l-3.2 0.4l-2.6 0l-2.5 -0.3l-2.5 -0.7l-2.5 -1.4l-1.4 -1.4l-0.5 -0.8l-0.3 -0.9l-0.2 -1.6l0.5 -2.5l1.9 -3.4l5 -6.1l2.5 -2.3l1.7 -1.1ZM166.6 15.8l2.5 -0.5l3.4 -0.2l3.4 0.2l2.5 0.5l2.5 0.9l1.3 0.9l0.9 0.8l0.4 0.9l0 0.8l-0.3 0.8l-1.5 1.2l-1.6 0.7l-2.6 0.6l-2.5 0.2l-3.4 0l-2.5 -0.3l-2.5 -0.5l-2.5 -0.9l-1.5 -1l-0.6 -0.8l-0.3 -0.8l0.3 -0.9l0.7 -0.8l1.4 -0.9ZM211.2 18.1l0.8 -0.3l0.9 0l0.8 0.3l0.9 0.5l1.3 1.6l0.4 0.8l0.2 1.7l-0.5 1.7l-0.7 0.8l-1.6 0.5l-0.8 0l-0.9 -0.3l-0.8 -0.6l-0.8 -1l-0.6 -2l0.1 -1.6l0.5 -1.2ZM112.8 67.9l2.5 0.1l1.7 0.4l1.7 0.6l1.7 1.1l0.8 1.2l0.5 1.6l-0.3 1.7l-0.6 0.8l-1.3 0.9l-1.7 0.4l-1.6 0l-2.6 -0.4l-3.3 -0.8l-2.5 -0.9l-1.7 -0.9l-1 -0.8l-0.6 -0.8l0 -0.8l0.4 -0.9l1.2 -0.9l1.6 -0.8l1.7 -0.4ZM66.5 68.7l5 -0.3l7.6 0.1l5.1 0.3l4.2 0.5l3.3 1l2 0.9l1 0.9l0.4 0.8l0 0.9l-0.3 0.8l-1.3 1.7l-2.1 1.7l-2.2 0.9l-3.3 0.6l-3.4 0.1l-16 -0.3l-3.4 -0.6l-1.9 -0.7l-1.3 -0.9l-1 -0.9l-0.9 -1.6l-0.2 -0.8l0.1 -0.9l0.4 -0.8l1.5 -1.3l1.7 -0.9l2.5 -0.8ZM168.3 76.2l3.4 -0.2l3.3 0.1l3.4 0.5l2.5 0.7l1.7 0.8l2 1.5l0.9 1.7l0.1 1.7l-0.4 0.8l-0.9 1l-1.1 0.7l-2.3 0.8l-5 1l-6.8 0.5l-5 -0.1l-4.2 -0.8l-1.6 -0.6l-1.4 -0.8l-1 -0.9l-0.5 -0.8l-0.3 -0.8l0.1 -0.9l0.5 -0.8l1.6 -1.7l1.3 -0.8l1.8 -0.9l2.7 -0.8Z" fill="#FF5C10" fill-rule="evenodd"/>
<path d="M242.4 0l10.6 0l1.2 0.8l-0.2 0.9l-1.6 0.8l-3.3 0.6l-2.5 -0.1l-2.9 -0.5l-1.5 -0.8l-0.5 -0.9l0.3 -0.8ZM82.5 14.9l1.7 -0.5l0.8 0.1l1.2 0.6l0.4 0.8l-0.4 0.9l-1.2 0.8l-1.7 0.3l-0.8 -0.2l-0.9 -0.9l0 -0.9ZM68.2 71.2l5 -0.1l8.5 0.6l2.5 0.4l0.8 0.3l1.2 0.6l0.6 0.8l-0.3 0.8l-0.6 0.6l-0.9 0.4l-1.7 0.5l-2.5 0.2l-9.2 0.4l-2.6 0l-2.7 -0.4l-2 -0.8l-0.9 -0.9l-0.3 -0.8l0.2 -0.8l0.7 -0.6l1.7 -0.7ZM168.3 78.8l4.2 -0.5l1.7 0.1l2.4 0.4l1.6 0.9l0.7 0.8l0.2 0.9l-0.2 0.8l-0.6 0.8l-1.6 0.9l-2.5 0.6l-2.5 0.3l-3.4 -0.1l-1.7 -0.2l-1.9 -0.6l-1 -0.9l-0.2 -0.8l0.3 -0.8l0.8 -0.9l1.3 -0.8Z" fill="#FC560B" fill-rule="evenodd"/>
<use href="#coast"/>
</g>
<rect x="0" y="0" width="302.9" height="100.6" fill="none" stroke="#000" stroke-width="1.35"/>
<path d="M0 100.6v5.6M50.5 100.6v5.6M101 100.6v5.6M151.5 100.6v5.6M202 100.6v5.6M252.5 100.6v5.6M302.9 100.6v5.6M0 0h-5.2M0 25.1h-5.2M0 50.3h-5.2M0 75.4h-5.2M0 100.6h-5.2" stroke="#000" stroke-width="1.3" fill="none"/>
<text transform="translate(0 121.6) scale(1.045 1)" font-size="10.5" text-anchor="middle">0</text>
<text transform="translate(50.5 121.6) scale(1.045 1)" font-size="10.5" text-anchor="middle">60E</text>
<text transform="translate(101 121.6) scale(1.045 1)" font-size="10.5" text-anchor="middle">120E</text>
<text transform="translate(151.5 121.6) scale(1.045 1)" font-size="10.5" text-anchor="middle">180</text>
<text transform="translate(202 121.6) scale(1.045 1)" font-size="10.5" text-anchor="middle">120W</text>
<text transform="translate(252.5 121.6) scale(1.045 1)" font-size="10.5" text-anchor="middle">60W</text>
<text transform="translate(302.9 121.6) scale(1.045 1)" font-size="10.5" text-anchor="middle">0</text>
<text transform="translate(-12 3.8) scale(1.045 1)" font-size="10.5" text-anchor="end">60N</text>
<text transform="translate(-12 28.9) scale(1.045 1)" font-size="10.5" text-anchor="end">30N</text>
<text transform="translate(-12 54) scale(1.045 1)" font-size="10.5" text-anchor="end">0</text>
<text transform="translate(-12 79.2) scale(1.045 1)" font-size="10.5" text-anchor="end">30S</text>
<text transform="translate(-12 104.3) scale(1.045 1)" font-size="10.5" text-anchor="end">60S</text>
<text x="151.5" y="-7.8" font-size="12" text-anchor="middle">amip-piForcing (CESM2)</text>
</g>
<text x="345.2" y="163.3" font-size="18" font-weight="bold" style="stroke:none">d</text>
<rect x="103.50" y="324.7" width="42.13" height="8.4" fill="#FFFFFF"/>
<rect x="145.33" y="324.7" width="42.13" height="8.4" fill="#FFF5CC"/>
<rect x="187.16" y="324.7" width="42.13" height="8.4" fill="#FFE97A"/>
<rect x="228.99" y="324.7" width="42.13" height="8.4" fill="#FFE066"/>
<rect x="270.82" y="324.7" width="42.13" height="8.4" fill="#FFC832"/>
<rect x="312.65" y="324.7" width="42.13" height="8.4" fill="#FFAB33"/>
<rect x="354.48" y="324.7" width="42.13" height="8.4" fill="#FF9933"/>
<rect x="396.31" y="324.7" width="42.13" height="8.4" fill="#FF7033"/>
<rect x="438.14" y="324.7" width="42.13" height="8.4" fill="#FF5C10"/>
<rect x="479.97" y="324.7" width="42.13" height="8.4" fill="#FC560B"/>
<rect x="521.80" y="324.7" width="42.13" height="8.4" fill="#E8281E"/>
<rect x="563.63" y="324.7" width="41.83" height="8.4" fill="#C81E14"/>
<path d="M103.50 324.7H605.46V333.1H103.50ZM145.33 324.7V333.1M187.16 324.7V333.1M228.99 324.7V333.1M270.82 324.7V333.1M312.65 324.7V333.1M354.48 324.7V333.1M396.31 324.7V333.1M438.14 324.7V333.1M479.97 324.7V333.1M521.80 324.7V333.1M563.63 324.7V333.1" fill="none" stroke="#000" stroke-width="0.8"/>
<text transform="translate(145.3 343.5) scale(1.015 1)" font-size="10" text-anchor="middle">0</text>
<text transform="translate(187.2 343.5) scale(1.015 1)" font-size="10" text-anchor="middle">0.04</text>
<text transform="translate(229 343.5) scale(1.015 1)" font-size="10" text-anchor="middle">0.08</text>
<text transform="translate(270.8 343.5) scale(1.015 1)" font-size="10" text-anchor="middle">0.12</text>
<text transform="translate(312.6 343.5) scale(1.015 1)" font-size="10" text-anchor="middle">0.16</text>
<text transform="translate(354.5 343.5) scale(1.015 1)" font-size="10" text-anchor="middle">0.2</text>
<text transform="translate(396.3 343.5) scale(1.015 1)" font-size="10" text-anchor="middle">0.24</text>
<text transform="translate(438.1 343.5) scale(1.015 1)" font-size="10" text-anchor="middle">0.28</text>
<text transform="translate(480 343.5) scale(1.015 1)" font-size="10" text-anchor="middle">0.32</text>
<text transform="translate(521.8 343.5) scale(1.015 1)" font-size="10" text-anchor="middle">0.36</text>
<text transform="translate(563.6 343.5) scale(1.015 1)" font-size="10" text-anchor="middle">0.4</text>
<text x="327.1" y="322.7" font-size="11.5">K decade<tspan font-size="6.5" dy="-5.8">-1</tspan></text>
<text x="61" y="364.2" font-size="18" font-weight="bold" style="stroke:none">e</text>
<text transform="translate(358.5 369.6) scale(1.026 1)" font-size="13.5" text-anchor="middle">Tropical mean</text>
<g stroke="#0000FF" stroke-width="1.6" fill="none">
<rect x="162.8" y="425.8" width="29.6" height="28.7"/>
<path d="M162.8 439.6h29.6M173.4 391.3h8.4M173.4 475.1h8.4"/>
<path d="M177.6 425.8V391.3M177.6 475.1V454.5" stroke-dasharray="9.9 3.2"/>
</g>
<g stroke="#0000FF" stroke-width="1.6" fill="none">
<rect x="234.9" y="430.2" width="29.6" height="17.8"/>
<path d="M234.9 441.2h29.6M245.5 413.9h8.4M245.5 462h8.4"/>
<path d="M249.7 430.2V413.9M249.7 462V448" stroke-dasharray="9.9 3.2"/>
</g>
<g stroke="#0000FF" stroke-width="1.6" fill="none">
<rect x="307" y="462.6" width="29.6" height="17.5"/>
<path d="M307 470.8h29.6M317.6 417.1h8.4M317.6 502.3h8.4"/>
<path d="M321.8 462.6V417.1M321.8 502.3V480.1" stroke-dasharray="9.9 3.2"/>
</g>
<path d="M105.5 479.1H610.2" stroke="#A22AF2" stroke-width="1.4"/>
<path d="M105.5 483.6H610.2M105.5 485.2H610.2" stroke="#A020F0" stroke-width="1.7"/>
<path d="M105.5 487.4H610.2M105.5 489.5H610.2" stroke="#FF0000" stroke-width="1.3"/>
<path d="M105.5 508.2H610.2" stroke="#FF0000" stroke-width="2.6"/>
<g stroke="#0B8A0B" stroke-width="1.9" fill="none">
<rect x="379.6" y="468.8" width="28.6" height="4.1"/>
<path d="M379.6 471.3h28.6" stroke-width="1.9"/>
<path d="M389.7 467.3h8.4M389.7 475.1h8.4M393.9 467.3V468.8M393.9 472.9V475.1" stroke-width="1.5"/>
</g>
<g stroke="#0B8A0B" stroke-width="1.9" fill="none">
<rect x="451.7" y="471.1" width="28.6" height="3.7"/>
<path d="M451.7 473h28.6" stroke-width="1.9"/>
<path d="M461.8 467.9h8.4M461.8 476.9h8.4M466 467.9V471.1M466 474.8V476.9" stroke-width="1.5"/>
</g>
<g stroke="#0B8A0B" stroke-width="1.9" fill="none">
<rect x="523.8" y="467.9" width="28.6" height="7.1"/>
<path d="M523.8 470.5h28.6" stroke-width="1.3"/>
<path d="M533.9 464.9h8.4M533.9 476.4h8.4M538.1 464.9V467.9M538.1 475V476.4" stroke-width="1.5"/>
</g>
<path d="M574.2 460.3V513.5" stroke="#FF0000" stroke-width="1.1"/>
<path d="M577.8 463V516.5" stroke="#FF0000" stroke-width="1.1"/>
<path d="M581.4 482.2V533.3" stroke="#FF0000" stroke-width="1.1"/>
<path d="M585.1 481V536" stroke="#FF0000" stroke-width="1.1"/>
<path d="M592.2 454.2V503.7" stroke="#A020F0" stroke-width="1.1"/>
<path d="M595.7 459.3V507.3" stroke="#A020F0" stroke-width="1.1"/>
<path d="M599.4 459.3V510.4" stroke="#A020F0" stroke-width="1.1"/>
<rect x="105.5" y="381.1" width="504.7" height="180" fill="none" stroke="#000" stroke-width="1.35"/>
<path d="M105.5 543h5.6M105.5 507.1h5.6M105.5 471.1h5.6M105.5 435.1h5.6M105.5 399.2h5.6M177.6 561v-5.5M249.7 561v-5.5M321.8 561v-5.5M393.9 561v-5.5M466 561v-5.5M538.1 561v-5.5" stroke="#000" stroke-width="1.25" fill="none"/>
<text transform="translate(98.2 546.8) scale(1.05 1)" font-size="10.5" text-anchor="end">0</text>
<text transform="translate(98.2 510.9) scale(1.05 1)" font-size="10.5" text-anchor="end">0.1</text>
<text transform="translate(98.2 474.9) scale(1.05 1)" font-size="10.5" text-anchor="end">0.2</text>
<text transform="translate(98.2 438.9) scale(1.05 1)" font-size="10.5" text-anchor="end">0.3</text>
<text transform="translate(98.2 403) scale(1.05 1)" font-size="10.5" text-anchor="end">0.4</text>
<text x="177.6" y="578.6" font-size="12" text-anchor="middle">CESM2 LE</text>
<text x="249.7" y="578.6" font-size="12" text-anchor="middle">IPSL</text>
<text x="321.8" y="578.6" font-size="12" text-anchor="middle">MIROC6</text>
<text x="393.9" y="578.6" font-size="12" text-anchor="middle">CESM2</text>
<text x="466" y="578.6" font-size="12" text-anchor="middle">IPSL</text>
<text x="538.1" y="578.6" font-size="12" text-anchor="middle">MIROC6</text>
<text transform="translate(74.1 471) rotate(-90) scale(1.025 1)" font-size="12.5" text-anchor="middle">Trend (K decade<tspan font-size="6.5" dy="-7.6">-1</tspan><tspan dy="7.6">)</tspan></text>
<text x="249.8" y="399.3" font-size="12" font-weight="bold" text-anchor="middle" style="fill:#0000FF;stroke:none">Coupled</text>
<text x="466" y="399.7" font-size="12" font-weight="bold" text-anchor="middle" style="fill:#0B8A0B;stroke:none">AMIP</text>
<text x="250" y="500" font-size="12" font-weight="bold" text-anchor="middle" style="fill:#A020F0;stroke:none">amip-piForcing</text>
<text x="141.5" y="529.8" font-size="12" font-weight="bold" text-anchor="middle" style="fill:#FF0000;stroke:none">OBS</text>
<text x="632" y="470.4" font-size="7.2" font-weight="bold" text-anchor="middle" style="fill:#A020F0;stroke:none">MIROC6</text>
<text x="632" y="477.6" font-size="7.2" font-weight="bold" text-anchor="middle" style="fill:#A020F0;stroke:none">CESM2</text>
<text x="632" y="484.9" font-size="7.2" font-weight="bold" text-anchor="middle" style="fill:#A020F0;stroke:none">IPSL</text>
<text x="632" y="491.8" font-size="7.2" font-weight="bold" text-anchor="middle" style="fill:#FF0000;stroke:none">RSS</text>
<text x="632" y="498.8" font-size="7.2" font-weight="bold" text-anchor="middle" style="fill:#FF0000;stroke:none">UW</text>
<text x="632" y="509.4" font-size="7.2" font-weight="bold" text-anchor="middle" style="fill:#FF0000;stroke:none">UAH</text>
<text x="632" y="516.9" font-size="7.2" font-weight="bold" text-anchor="middle" style="fill:#FF0000;stroke:none">STAR</text>
</svg></body></html>
